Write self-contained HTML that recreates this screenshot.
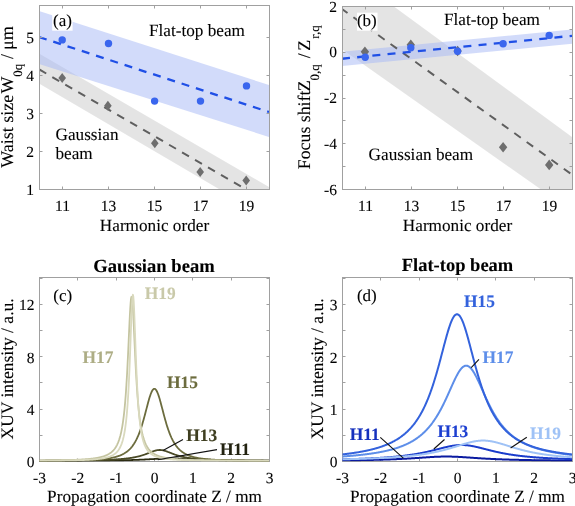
<!DOCTYPE html>
<html><head><meta charset="utf-8"><style>
html,body{margin:0;padding:0;background:#fff;width:575px;height:506px;overflow:hidden}
svg{display:block;will-change:transform}
text{font-family:"Liberation Serif",serif;text-rendering:geometricPrecision;stroke-width:0.1px}
</style></head><body>
<svg width="575" height="506" viewBox="0 0 575 506" font-family="Liberation Serif"><defs><clipPath id="ca"><rect x="39.5" y="5.5" width="230" height="184"/></clipPath><clipPath id="cb"><rect x="342.5" y="6" width="230" height="183.5"/></clipPath><clipPath id="cc"><rect x="39.5" y="277.5" width="230" height="184"/></clipPath><clipPath id="cd"><rect x="342.5" y="277.5" width="230" height="184"/></clipPath></defs>
<g clip-path="url(#ca)">
<polygon points="39,53.6 269,187 269,218.4 39,83.4" fill="#000" fill-opacity="0.105"/>
<polygon points="39,11 269,85 269,137 39,64" fill="#a5b7f5" fill-opacity="0.5"/>
<line x1="39" y1="69.3" x2="269" y2="202.7" stroke="#5f5f5f" stroke-width="2.0" stroke-dasharray="8 7" stroke-dashoffset="-0.37"/>
<line x1="39" y1="37" x2="269" y2="112" stroke="#1f4fe6" stroke-width="2.3" stroke-dasharray="8 7"/>
</g>
<rect x="52.2" y="12.7" width="20.4" height="18" fill="#fff"/>
<text x="62.5" y="25.6" font-size="17" text-anchor="middle" fill="#000" stroke="#000" font-weight="normal" >(a)</text>
<polygon points="62.2,73 66,78 62.2,83 58.4,78" fill="#6e6e6e"/>
<polygon points="107.9,100.8 111.7,105.8 107.9,110.8 104.1,105.8" fill="#6e6e6e"/>
<polygon points="154.8,138.2 158.6,143.2 154.8,148.2 151,143.2" fill="#6e6e6e"/>
<polygon points="200.2,167 204,172 200.2,177 196.4,172" fill="#6e6e6e"/>
<polygon points="246.2,175.5 250,180.5 246.2,185.5 242.4,180.5" fill="#6e6e6e"/>
<circle cx="62.2" cy="39.9" r="3.7" fill="#3a66ee"/>
<circle cx="108.5" cy="43.5" r="3.7" fill="#3a66ee"/>
<circle cx="154.6" cy="101.1" r="3.7" fill="#3a66ee"/>
<circle cx="200.5" cy="101.1" r="3.7" fill="#3a66ee"/>
<circle cx="246.5" cy="85.9" r="3.7" fill="#3a66ee"/>
<rect x="39.5" y="5.5" width="230" height="184" fill="none" stroke="#a0a0a0" stroke-width="1"/>
<path d="M62.5 189.5v-3M62.5 5.5v3M108.5 189.5v-3M108.5 5.5v3M154.5 189.5v-3M154.5 5.5v3M200.5 189.5v-3M200.5 5.5v3M246.5 189.5v-3M246.5 5.5v3M39.5 189.5h3M269.5 189.5h-3M39.5 151.5h3M269.5 151.5h-3M39.5 113.5h3M269.5 113.5h-3M39.5 75.5h3M269.5 75.5h-3M39.5 37.5h3M269.5 37.5h-3" stroke="#a0a0a0" stroke-width="1" fill="none"/>
<text x="62.5" y="210.5" font-size="15.5" text-anchor="middle" fill="#000" stroke="#000" font-weight="normal" >11</text>
<text x="108.5" y="210.5" font-size="15.5" text-anchor="middle" fill="#000" stroke="#000" font-weight="normal" >13</text>
<text x="154.5" y="210.5" font-size="15.5" text-anchor="middle" fill="#000" stroke="#000" font-weight="normal" >15</text>
<text x="200.5" y="210.5" font-size="15.5" text-anchor="middle" fill="#000" stroke="#000" font-weight="normal" >17</text>
<text x="246.5" y="210.5" font-size="15.5" text-anchor="middle" fill="#000" stroke="#000" font-weight="normal" >19</text>
<text x="34" y="194.5" font-size="15.5" text-anchor="end" fill="#000" stroke="#000" font-weight="normal" dy="0.8">1</text>
<text x="34" y="156.5" font-size="15.5" text-anchor="end" fill="#000" stroke="#000" font-weight="normal" dy="0.8">2</text>
<text x="34" y="118.5" font-size="15.5" text-anchor="end" fill="#000" stroke="#000" font-weight="normal" dy="0.8">3</text>
<text x="34" y="80.5" font-size="15.5" text-anchor="end" fill="#000" stroke="#000" font-weight="normal" dy="0.8">4</text>
<text x="34" y="42.5" font-size="15.5" text-anchor="end" fill="#000" stroke="#000" font-weight="normal" dy="0.8">5</text>
<text x="154.5" y="231.2" font-size="17.2" text-anchor="middle" fill="#000" stroke="#000" font-weight="normal" >Harmonic order</text>
<text x="149" y="36" font-size="17.2" text-anchor="start" fill="#000" stroke="#000" font-weight="normal" >Flat-top beam</text>
<text x="55.5" y="140.3" font-size="17.2" text-anchor="start" fill="#000" stroke="#000" font-weight="normal" >Gaussian</text>
<text x="55.5" y="159.4" font-size="17.2" text-anchor="start" fill="#000" stroke="#000" font-weight="normal" >beam</text>
<text transform="translate(12.8,131.25) rotate(-90)" text-anchor="middle" stroke="#000" font-size="18">Waist size</text>
<text transform="translate(12.8,85.05) rotate(-90)" text-anchor="middle" stroke="#000" font-size="18">W</text>
<text transform="translate(21.6,70.35) rotate(-90)" text-anchor="middle" stroke="#000" font-size="12.8">0q</text>
<text transform="translate(12.8,56.55) rotate(-90)" text-anchor="middle" stroke="#000" font-size="18">/</text>
<text transform="translate(12.8,38.15) rotate(-90)" text-anchor="middle" stroke="#000" font-size="18">μm</text>
<g clip-path="url(#cb)">
<polygon points="342,-31.5 572,136.9 572,211.3 342,49.3" fill="#000" fill-opacity="0.105"/>
<polygon points="342,51.7 572,29.6 572,43.8 342,66" fill="#a5b7f5" fill-opacity="0.5"/>
<line x1="342" y1="9" x2="572" y2="174.6" stroke="#5f5f5f" stroke-width="2.0" stroke-dasharray="8 7.25" stroke-dashoffset="1.2"/>
<line x1="342" y1="58.75" x2="572" y2="35.8" stroke="#1f4fe6" stroke-width="2.3" stroke-dasharray="8 7.25"/>
</g>
<rect x="357" y="12.7" width="20.5" height="18" fill="#fff"/>
<text x="366.8" y="25.6" font-size="17" text-anchor="middle" fill="#000" stroke="#000" font-weight="normal" >(b)</text>
<polygon points="364.9,46.4 369.1,51.7 364.9,57 360.7,51.7" fill="#6e6e6e"/>
<polygon points="410.8,39.4 415,44.7 410.8,50 406.6,44.7" fill="#6e6e6e"/>
<polygon points="457.6,45.7 461.8,51 457.6,56.3 453.4,51" fill="#6e6e6e"/>
<polygon points="503.1,141.9 507.3,147.2 503.1,152.5 498.9,147.2" fill="#6e6e6e"/>
<polygon points="549.2,159.6 553.4,164.9 549.2,170.2 545,164.9" fill="#6e6e6e"/>
<circle cx="365.2" cy="57.2" r="3.7" fill="#3a66ee"/>
<circle cx="410.8" cy="47.7" r="3.7" fill="#3a66ee"/>
<circle cx="457.6" cy="51.2" r="3.7" fill="#3a66ee"/>
<circle cx="503.1" cy="43.7" r="3.7" fill="#3a66ee"/>
<circle cx="549.2" cy="35.4" r="3.7" fill="#3a66ee"/>
<rect x="342.5" y="6.5" width="230" height="183" fill="none" stroke="#a0a0a0" stroke-width="1"/>
<path d="M365.5 189.5v-3M365.5 6.5v3M411.5 189.5v-3M411.5 6.5v3M457.5 189.5v-3M457.5 6.5v3M503.5 189.5v-3M503.5 6.5v3M549.5 189.5v-3M549.5 6.5v3M342.5 189.5h3M572.5 189.5h-3M342.5 166.5h3M572.5 166.5h-3M342.5 143.5h3M572.5 143.5h-3M342.5 120.5h3M572.5 120.5h-3M342.5 98.5h3M572.5 98.5h-3M342.5 75.5h3M572.5 75.5h-3M342.5 52.5h3M572.5 52.5h-3M342.5 29.5h3M572.5 29.5h-3M342.5 6.5h3M572.5 6.5h-3" stroke="#a0a0a0" stroke-width="1" fill="none"/>
<text x="365.5" y="210.5" font-size="15.5" text-anchor="middle" fill="#000" stroke="#000" font-weight="normal" >11</text>
<text x="411.5" y="210.5" font-size="15.5" text-anchor="middle" fill="#000" stroke="#000" font-weight="normal" >13</text>
<text x="457.5" y="210.5" font-size="15.5" text-anchor="middle" fill="#000" stroke="#000" font-weight="normal" >15</text>
<text x="503.5" y="210.5" font-size="15.5" text-anchor="middle" fill="#000" stroke="#000" font-weight="normal" >17</text>
<text x="549.5" y="210.5" font-size="15.5" text-anchor="middle" fill="#000" stroke="#000" font-weight="normal" >19</text>
<text x="337" y="194.5" font-size="15.5" text-anchor="end" fill="#000" stroke="#000" font-weight="normal" >-6</text>
<text x="337" y="148.75" font-size="15.5" text-anchor="end" fill="#000" stroke="#000" font-weight="normal" >-4</text>
<text x="337" y="103" font-size="15.5" text-anchor="end" fill="#000" stroke="#000" font-weight="normal" >-2</text>
<text x="337" y="57.25" font-size="15.5" text-anchor="end" fill="#000" stroke="#000" font-weight="normal" >0</text>
<text x="337" y="11.5" font-size="15.5" text-anchor="end" fill="#000" stroke="#000" font-weight="normal" >2</text>
<text x="457.5" y="231.2" font-size="17.2" text-anchor="middle" fill="#000" stroke="#000" font-weight="normal" >Harmonic order</text>
<text x="444" y="25.2" font-size="17.2" text-anchor="start" fill="#000" stroke="#000" font-weight="normal" >Flat-top beam</text>
<text x="368.6" y="159.7" font-size="17.2" text-anchor="start" fill="#000" stroke="#000" font-weight="normal" >Gaussian beam</text>
<text transform="translate(309.8,129.9) rotate(-90)" text-anchor="middle" stroke="#000" font-size="17.8">Focus shift</text>
<text transform="translate(309.8,85.85) rotate(-90)" text-anchor="middle" stroke="#000" font-size="17.8">Z</text>
<text transform="translate(318.6,72.4) rotate(-90)" text-anchor="middle" stroke="#000" font-size="12.8">0,q</text>
<text transform="translate(309.8,55.7) rotate(-90)" text-anchor="middle" stroke="#000" font-size="17.8">/</text>
<text transform="translate(309.8,45.25) rotate(-90)" text-anchor="middle" stroke="#000" font-size="17.8">Z</text>
<text transform="translate(318.6,32.1) rotate(-90)" text-anchor="middle" stroke="#000" font-size="12.8">r,q</text>
<text x="154" y="271.5" font-size="18.6" text-anchor="middle" fill="#000" stroke="#000" font-weight="bold" >Gaussian beam</text>
<rect x="39.5" y="277.5" width="230" height="184" fill="none" stroke="#a0a0a0" stroke-width="1"/>
<path d="M39.5 461.5v-3M39.5 277.5v3M77.5 461.5v-3M77.5 277.5v3M116.5 461.5v-3M116.5 277.5v3M154.5 461.5v-3M154.5 277.5v3M192.5 461.5v-3M192.5 277.5v3M231.5 461.5v-3M231.5 277.5v3M269.5 461.5v-3M269.5 277.5v3M39.5 461.5h3M269.5 461.5h-3M39.5 435.5h3M269.5 435.5h-3M39.5 409.5h3M269.5 409.5h-3M39.5 382.5h3M269.5 382.5h-3M39.5 356.5h3M269.5 356.5h-3M39.5 330.5h3M269.5 330.5h-3M39.5 304.5h3M269.5 304.5h-3M39.5 278.5h3M269.5 278.5h-3" stroke="#a0a0a0" stroke-width="1" fill="none"/>
<g clip-path="url(#cc)">
<polyline points="39,460.87 39.38,460.87 39.77,460.86 40.15,460.86 40.53,460.86 40.92,460.86 41.3,460.86 41.68,460.86 42.07,460.86 42.45,460.86 42.83,460.86 43.22,460.86 43.6,460.86 43.98,460.86 44.37,460.86 44.75,460.85 45.13,460.85 45.52,460.85 45.9,460.85 46.28,460.85 46.67,460.85 47.05,460.85 47.43,460.85 47.82,460.85 48.2,460.85 48.58,460.85 48.97,460.84 49.35,460.84 49.73,460.84 50.12,460.84 50.5,460.84 50.88,460.84 51.27,460.84 51.65,460.84 52.03,460.84 52.42,460.84 52.8,460.84 53.18,460.83 53.57,460.83 53.95,460.83 54.33,460.83 54.72,460.83 55.1,460.83 55.48,460.83 55.87,460.83 56.25,460.83 56.63,460.82 57.02,460.82 57.4,460.82 57.78,460.82 58.17,460.82 58.55,460.82 58.93,460.82 59.32,460.82 59.7,460.82 60.08,460.81 60.47,460.81 60.85,460.81 61.23,460.81 61.62,460.81 62,460.81 62.38,460.81 62.77,460.81 63.15,460.8 63.53,460.8 63.92,460.8 64.3,460.8 64.68,460.8 65.07,460.8 65.45,460.8 65.83,460.8 66.22,460.79 66.6,460.79 66.98,460.79 67.37,460.79 67.75,460.79 68.13,460.79 68.52,460.79 68.9,460.78 69.28,460.78 69.67,460.78 70.05,460.78 70.43,460.78 70.82,460.78 71.2,460.77 71.58,460.77 71.97,460.77 72.35,460.77 72.73,460.77 73.12,460.77 73.5,460.77 73.88,460.76 74.27,460.76 74.65,460.76 75.03,460.76 75.42,460.76 75.8,460.75 76.18,460.75 76.57,460.75 76.95,460.75 77.33,460.75 77.72,460.75 78.1,460.74 78.48,460.74 78.87,460.74 79.25,460.74 79.63,460.74 80.02,460.73 80.4,460.73 80.78,460.73 81.17,460.73 81.55,460.73 81.93,460.72 82.32,460.72 82.7,460.72 83.08,460.72 83.47,460.72 83.85,460.71 84.23,460.71 84.62,460.71 85,460.71 85.38,460.7 85.77,460.7 86.15,460.7 86.53,460.7 86.92,460.69 87.3,460.69 87.68,460.69 88.07,460.69 88.45,460.68 88.83,460.68 89.22,460.68 89.6,460.68 89.98,460.67 90.37,460.67 90.75,460.67 91.13,460.67 91.52,460.66 91.9,460.66 92.28,460.66 92.67,460.65 93.05,460.65 93.43,460.65 93.82,460.64 94.2,460.64 94.58,460.64 94.97,460.64 95.35,460.63 95.73,460.63 96.12,460.63 96.5,460.62 96.88,460.62 97.27,460.62 97.65,460.61 98.03,460.61 98.42,460.61 98.8,460.6 99.18,460.6 99.57,460.59 99.95,460.59 100.33,460.59 100.72,460.58 101.1,460.58 101.48,460.58 101.87,460.57 102.25,460.57 102.63,460.56 103.02,460.56 103.4,460.56 103.78,460.55 104.17,460.55 104.55,460.54 104.93,460.54 105.32,460.53 105.7,460.53 106.08,460.52 106.47,460.52 106.85,460.52 107.23,460.51 107.62,460.51 108,460.5 108.38,460.5 108.77,460.49 109.15,460.49 109.53,460.48 109.92,460.48 110.3,460.47 110.68,460.47 111.07,460.46 111.45,460.45 111.83,460.45 112.22,460.44 112.6,460.44 112.98,460.43 113.37,460.43 113.75,460.42 114.13,460.41 114.52,460.41 114.9,460.4 115.28,460.4 115.67,460.39 116.05,460.38 116.43,460.38 116.82,460.37 117.2,460.36 117.58,460.36 117.97,460.35 118.35,460.34 118.73,460.33 119.12,460.33 119.5,460.32 119.88,460.31 120.27,460.3 120.65,460.3 121.03,460.29 121.42,460.28 121.8,460.27 122.18,460.26 122.57,460.26 122.95,460.25 123.33,460.24 123.72,460.23 124.1,460.22 124.48,460.21 124.87,460.2 125.25,460.19 125.63,460.18 126.02,460.17 126.4,460.17 126.78,460.16 127.17,460.15 127.55,460.14 127.93,460.13 128.32,460.11 128.7,460.1 129.08,460.09 129.47,460.08 129.85,460.07 130.23,460.06 130.62,460.05 131,460.04 131.38,460.03 131.77,460.01 132.15,460 132.53,459.99 132.92,459.98 133.3,459.97 133.68,459.95 134.07,459.94 134.45,459.93 134.83,459.91 135.22,459.9 135.6,459.89 135.98,459.87 136.37,459.86 136.75,459.84 137.13,459.83 137.52,459.81 137.9,459.8 138.28,459.78 138.67,459.77 139.05,459.75 139.43,459.74 139.82,459.72 140.2,459.71 140.58,459.69 140.97,459.67 141.35,459.66 141.73,459.64 142.12,459.62 142.5,459.61 142.88,459.59 143.27,459.57 143.65,459.55 144.03,459.53 144.42,459.52 144.8,459.5 145.18,459.48 145.57,459.46 145.95,459.44 146.33,459.42 146.72,459.4 147.1,459.38 147.48,459.36 147.87,459.34 148.25,459.32 148.63,459.3 149.02,459.28 149.4,459.26 149.78,459.24 150.17,459.22 150.55,459.2 150.93,459.18 151.32,459.16 151.7,459.14 152.08,459.12 152.47,459.09 152.85,459.07 153.23,459.05 153.62,459.03 154,459.01 154.38,458.99 154.77,458.97 155.15,458.95 155.53,458.93 155.92,458.9 156.3,458.88 156.68,458.86 157.07,458.84 157.45,458.82 157.83,458.8 158.22,458.78 158.6,458.76 158.98,458.74 159.37,458.72 159.75,458.7 160.13,458.68 160.52,458.67 160.9,458.65 161.28,458.63 161.67,458.61 162.05,458.6 162.43,458.58 162.82,458.56 163.2,458.55 163.58,458.53 163.97,458.52 164.35,458.51 164.73,458.49 165.12,458.48 165.5,458.47 165.88,458.46 166.27,458.45 166.65,458.44 167.03,458.43 167.42,458.42 167.8,458.41 168.18,458.41 168.57,458.4 168.95,458.39 169.33,458.39 169.72,458.39 170.1,458.38 170.48,458.38 170.87,458.38 171.25,458.38 171.63,458.38 172.02,458.38 172.4,458.38 172.78,458.39 173.17,458.39 173.55,458.39 173.93,458.4 174.32,458.41 174.7,458.41 175.08,458.42 175.47,458.43 175.85,458.44 176.23,458.45 176.62,458.46 177,458.47 177.38,458.48 177.77,458.49 178.15,458.51 178.53,458.52 178.92,458.53 179.3,458.55 179.68,458.56 180.07,458.58 180.45,458.6 180.83,458.61 181.22,458.63 181.6,458.65 181.98,458.67 182.37,458.68 182.75,458.7 183.13,458.72 183.52,458.74 183.9,458.76 184.28,458.78 184.67,458.8 185.05,458.82 185.43,458.84 185.82,458.86 186.2,458.88 186.58,458.9 186.97,458.93 187.35,458.95 187.73,458.97 188.12,458.99 188.5,459.01 188.88,459.03 189.27,459.05 189.65,459.07 190.03,459.09 190.42,459.12 190.8,459.14 191.18,459.16 191.57,459.18 191.95,459.2 192.33,459.22 192.72,459.24 193.1,459.26 193.48,459.28 193.87,459.3 194.25,459.32 194.63,459.34 195.02,459.36 195.4,459.38 195.78,459.4 196.17,459.42 196.55,459.44 196.93,459.46 197.32,459.48 197.7,459.5 198.08,459.52 198.47,459.53 198.85,459.55 199.23,459.57 199.62,459.59 200,459.61 200.38,459.62 200.77,459.64 201.15,459.66 201.53,459.67 201.92,459.69 202.3,459.71 202.68,459.72 203.07,459.74 203.45,459.75 203.83,459.77 204.22,459.78 204.6,459.8 204.98,459.81 205.37,459.83 205.75,459.84 206.13,459.86 206.52,459.87 206.9,459.89 207.28,459.9 207.67,459.91 208.05,459.93 208.43,459.94 208.82,459.95 209.2,459.97 209.58,459.98 209.97,459.99 210.35,460 210.73,460.01 211.12,460.03 211.5,460.04 211.88,460.05 212.27,460.06 212.65,460.07 213.03,460.08 213.42,460.09 213.8,460.1 214.18,460.11 214.57,460.13 214.95,460.14 215.33,460.15 215.72,460.16 216.1,460.17 216.48,460.17 216.87,460.18 217.25,460.19 217.63,460.2 218.02,460.21 218.4,460.22 218.78,460.23 219.17,460.24 219.55,460.25 219.93,460.26 220.32,460.26 220.7,460.27 221.08,460.28 221.47,460.29 221.85,460.3 222.23,460.3 222.62,460.31 223,460.32 223.38,460.33 223.77,460.33 224.15,460.34 224.53,460.35 224.92,460.36 225.3,460.36 225.68,460.37 226.07,460.38 226.45,460.38 226.83,460.39 227.22,460.4 227.6,460.4 227.98,460.41 228.37,460.41 228.75,460.42 229.13,460.43 229.52,460.43 229.9,460.44 230.28,460.44 230.67,460.45 231.05,460.45 231.43,460.46 231.82,460.47 232.2,460.47 232.58,460.48 232.97,460.48 233.35,460.49 233.73,460.49 234.12,460.5 234.5,460.5 234.88,460.51 235.27,460.51 235.65,460.52 236.03,460.52 236.42,460.52 236.8,460.53 237.18,460.53 237.57,460.54 237.95,460.54 238.33,460.55 238.72,460.55 239.1,460.56 239.48,460.56 239.87,460.56 240.25,460.57 240.63,460.57 241.02,460.58 241.4,460.58 241.78,460.58 242.17,460.59 242.55,460.59 242.93,460.59 243.32,460.6 243.7,460.6 244.08,460.61 244.47,460.61 244.85,460.61 245.23,460.62 245.62,460.62 246,460.62 246.38,460.63 246.77,460.63 247.15,460.63 247.53,460.64 247.92,460.64 248.3,460.64 248.68,460.64 249.07,460.65 249.45,460.65 249.83,460.65 250.22,460.66 250.6,460.66 250.98,460.66 251.37,460.67 251.75,460.67 252.13,460.67 252.52,460.67 252.9,460.68 253.28,460.68 253.67,460.68 254.05,460.68 254.43,460.69 254.82,460.69 255.2,460.69 255.58,460.69 255.97,460.7 256.35,460.7 256.73,460.7 257.12,460.7 257.5,460.71 257.88,460.71 258.27,460.71 258.65,460.71 259.03,460.72 259.42,460.72 259.8,460.72 260.18,460.72 260.57,460.72 260.95,460.73 261.33,460.73 261.72,460.73 262.1,460.73 262.48,460.73 262.87,460.74 263.25,460.74 263.63,460.74 264.02,460.74 264.4,460.74 264.78,460.75 265.17,460.75 265.55,460.75 265.93,460.75 266.32,460.75 266.7,460.75 267.08,460.76 267.47,460.76 267.85,460.76 268.23,460.76 268.62,460.76 269,460.77" fill="none" stroke="#2c2c12" stroke-width="1.8" stroke-linejoin="round"/>
<polyline points="39,460.76 39.38,460.76 39.77,460.76 40.15,460.76 40.53,460.75 40.92,460.75 41.3,460.75 41.68,460.75 42.07,460.75 42.45,460.75 42.83,460.74 43.22,460.74 43.6,460.74 43.98,460.74 44.37,460.74 44.75,460.74 45.13,460.73 45.52,460.73 45.9,460.73 46.28,460.73 46.67,460.73 47.05,460.73 47.43,460.72 47.82,460.72 48.2,460.72 48.58,460.72 48.97,460.72 49.35,460.71 49.73,460.71 50.12,460.71 50.5,460.71 50.88,460.71 51.27,460.7 51.65,460.7 52.03,460.7 52.42,460.7 52.8,460.7 53.18,460.69 53.57,460.69 53.95,460.69 54.33,460.69 54.72,460.69 55.1,460.68 55.48,460.68 55.87,460.68 56.25,460.68 56.63,460.67 57.02,460.67 57.4,460.67 57.78,460.67 58.17,460.66 58.55,460.66 58.93,460.66 59.32,460.66 59.7,460.65 60.08,460.65 60.47,460.65 60.85,460.65 61.23,460.64 61.62,460.64 62,460.64 62.38,460.64 62.77,460.63 63.15,460.63 63.53,460.63 63.92,460.62 64.3,460.62 64.68,460.62 65.07,460.62 65.45,460.61 65.83,460.61 66.22,460.61 66.6,460.6 66.98,460.6 67.37,460.6 67.75,460.59 68.13,460.59 68.52,460.59 68.9,460.58 69.28,460.58 69.67,460.58 70.05,460.57 70.43,460.57 70.82,460.57 71.2,460.56 71.58,460.56 71.97,460.56 72.35,460.55 72.73,460.55 73.12,460.54 73.5,460.54 73.88,460.54 74.27,460.53 74.65,460.53 75.03,460.52 75.42,460.52 75.8,460.52 76.18,460.51 76.57,460.51 76.95,460.5 77.33,460.5 77.72,460.49 78.1,460.49 78.48,460.48 78.87,460.48 79.25,460.48 79.63,460.47 80.02,460.47 80.4,460.46 80.78,460.46 81.17,460.45 81.55,460.45 81.93,460.44 82.32,460.43 82.7,460.43 83.08,460.42 83.47,460.42 83.85,460.41 84.23,460.41 84.62,460.4 85,460.4 85.38,460.39 85.77,460.38 86.15,460.38 86.53,460.37 86.92,460.37 87.3,460.36 87.68,460.35 88.07,460.35 88.45,460.34 88.83,460.33 89.22,460.33 89.6,460.32 89.98,460.31 90.37,460.3 90.75,460.3 91.13,460.29 91.52,460.28 91.9,460.28 92.28,460.27 92.67,460.26 93.05,460.25 93.43,460.24 93.82,460.24 94.2,460.23 94.58,460.22 94.97,460.21 95.35,460.2 95.73,460.19 96.12,460.18 96.5,460.17 96.88,460.16 97.27,460.16 97.65,460.15 98.03,460.14 98.42,460.13 98.8,460.12 99.18,460.11 99.57,460.09 99.95,460.08 100.33,460.07 100.72,460.06 101.1,460.05 101.48,460.04 101.87,460.03 102.25,460.02 102.63,460 103.02,459.99 103.4,459.98 103.78,459.97 104.17,459.95 104.55,459.94 104.93,459.93 105.32,459.91 105.7,459.9 106.08,459.89 106.47,459.87 106.85,459.86 107.23,459.84 107.62,459.83 108,459.81 108.38,459.79 108.77,459.78 109.15,459.76 109.53,459.75 109.92,459.73 110.3,459.71 110.68,459.69 111.07,459.67 111.45,459.66 111.83,459.64 112.22,459.62 112.6,459.6 112.98,459.58 113.37,459.56 113.75,459.54 114.13,459.52 114.52,459.49 114.9,459.47 115.28,459.45 115.67,459.43 116.05,459.4 116.43,459.38 116.82,459.35 117.2,459.33 117.58,459.3 117.97,459.27 118.35,459.25 118.73,459.22 119.12,459.19 119.5,459.16 119.88,459.13 120.27,459.1 120.65,459.07 121.03,459.04 121.42,459.01 121.8,458.98 122.18,458.94 122.57,458.91 122.95,458.87 123.33,458.84 123.72,458.8 124.1,458.76 124.48,458.72 124.87,458.68 125.25,458.64 125.63,458.6 126.02,458.56 126.4,458.51 126.78,458.47 127.17,458.42 127.55,458.38 127.93,458.33 128.32,458.28 128.7,458.23 129.08,458.18 129.47,458.12 129.85,458.07 130.23,458.01 130.62,457.96 131,457.9 131.38,457.84 131.77,457.78 132.15,457.71 132.53,457.65 132.92,457.58 133.3,457.51 133.68,457.44 134.07,457.37 134.45,457.3 134.83,457.22 135.22,457.14 135.6,457.07 135.98,456.98 136.37,456.9 136.75,456.82 137.13,456.73 137.52,456.64 137.9,456.55 138.28,456.45 138.67,456.36 139.05,456.26 139.43,456.16 139.82,456.05 140.2,455.95 140.58,455.84 140.97,455.73 141.35,455.61 141.73,455.5 142.12,455.38 142.5,455.26 142.88,455.14 143.27,455.01 143.65,454.88 144.03,454.75 144.42,454.62 144.8,454.48 145.18,454.35 145.57,454.21 145.95,454.06 146.33,453.92 146.72,453.78 147.1,453.63 147.48,453.48 147.87,453.33 148.25,453.18 148.63,453.03 149.02,452.88 149.4,452.73 149.78,452.57 150.17,452.42 150.55,452.27 150.93,452.12 151.32,451.97 151.7,451.83 152.08,451.68 152.47,451.54 152.85,451.4 153.23,451.27 153.62,451.14 154,451.01 154.38,450.89 154.77,450.78 155.15,450.67 155.53,450.57 155.92,450.47 156.3,450.39 156.68,450.31 157.07,450.23 157.45,450.17 157.83,450.12 158.22,450.08 158.6,450.04 158.98,450.02 159.37,450 159.75,450 160.13,450 160.52,450.02 160.9,450.04 161.28,450.08 161.67,450.12 162.05,450.17 162.43,450.23 162.82,450.31 163.2,450.39 163.58,450.47 163.97,450.57 164.35,450.67 164.73,450.78 165.12,450.89 165.5,451.01 165.88,451.14 166.27,451.27 166.65,451.4 167.03,451.54 167.42,451.68 167.8,451.83 168.18,451.97 168.57,452.12 168.95,452.27 169.33,452.42 169.72,452.57 170.1,452.73 170.48,452.88 170.87,453.03 171.25,453.18 171.63,453.33 172.02,453.48 172.4,453.63 172.78,453.78 173.17,453.92 173.55,454.06 173.93,454.21 174.32,454.35 174.7,454.48 175.08,454.62 175.47,454.75 175.85,454.88 176.23,455.01 176.62,455.14 177,455.26 177.38,455.38 177.77,455.5 178.15,455.61 178.53,455.73 178.92,455.84 179.3,455.95 179.68,456.05 180.07,456.16 180.45,456.26 180.83,456.36 181.22,456.45 181.6,456.55 181.98,456.64 182.37,456.73 182.75,456.82 183.13,456.9 183.52,456.98 183.9,457.07 184.28,457.14 184.67,457.22 185.05,457.3 185.43,457.37 185.82,457.44 186.2,457.51 186.58,457.58 186.97,457.65 187.35,457.71 187.73,457.78 188.12,457.84 188.5,457.9 188.88,457.96 189.27,458.01 189.65,458.07 190.03,458.12 190.42,458.18 190.8,458.23 191.18,458.28 191.57,458.33 191.95,458.38 192.33,458.42 192.72,458.47 193.1,458.51 193.48,458.56 193.87,458.6 194.25,458.64 194.63,458.68 195.02,458.72 195.4,458.76 195.78,458.8 196.17,458.84 196.55,458.87 196.93,458.91 197.32,458.94 197.7,458.98 198.08,459.01 198.47,459.04 198.85,459.07 199.23,459.1 199.62,459.13 200,459.16 200.38,459.19 200.77,459.22 201.15,459.25 201.53,459.27 201.92,459.3 202.3,459.33 202.68,459.35 203.07,459.38 203.45,459.4 203.83,459.43 204.22,459.45 204.6,459.47 204.98,459.49 205.37,459.52 205.75,459.54 206.13,459.56 206.52,459.58 206.9,459.6 207.28,459.62 207.67,459.64 208.05,459.66 208.43,459.67 208.82,459.69 209.2,459.71 209.58,459.73 209.97,459.75 210.35,459.76 210.73,459.78 211.12,459.79 211.5,459.81 211.88,459.83 212.27,459.84 212.65,459.86 213.03,459.87 213.42,459.89 213.8,459.9 214.18,459.91 214.57,459.93 214.95,459.94 215.33,459.95 215.72,459.97 216.1,459.98 216.48,459.99 216.87,460 217.25,460.02 217.63,460.03 218.02,460.04 218.4,460.05 218.78,460.06 219.17,460.07 219.55,460.08 219.93,460.09 220.32,460.11 220.7,460.12 221.08,460.13 221.47,460.14 221.85,460.15 222.23,460.16 222.62,460.16 223,460.17 223.38,460.18 223.77,460.19 224.15,460.2 224.53,460.21 224.92,460.22 225.3,460.23 225.68,460.24 226.07,460.24 226.45,460.25 226.83,460.26 227.22,460.27 227.6,460.28 227.98,460.28 228.37,460.29 228.75,460.3 229.13,460.3 229.52,460.31 229.9,460.32 230.28,460.33 230.67,460.33 231.05,460.34 231.43,460.35 231.82,460.35 232.2,460.36 232.58,460.37 232.97,460.37 233.35,460.38 233.73,460.38 234.12,460.39 234.5,460.4 234.88,460.4 235.27,460.41 235.65,460.41 236.03,460.42 236.42,460.42 236.8,460.43 237.18,460.43 237.57,460.44 237.95,460.45 238.33,460.45 238.72,460.46 239.1,460.46 239.48,460.47 239.87,460.47 240.25,460.48 240.63,460.48 241.02,460.48 241.4,460.49 241.78,460.49 242.17,460.5 242.55,460.5 242.93,460.51 243.32,460.51 243.7,460.52 244.08,460.52 244.47,460.52 244.85,460.53 245.23,460.53 245.62,460.54 246,460.54 246.38,460.54 246.77,460.55 247.15,460.55 247.53,460.56 247.92,460.56 248.3,460.56 248.68,460.57 249.07,460.57 249.45,460.57 249.83,460.58 250.22,460.58 250.6,460.58 250.98,460.59 251.37,460.59 251.75,460.59 252.13,460.6 252.52,460.6 252.9,460.6 253.28,460.61 253.67,460.61 254.05,460.61 254.43,460.62 254.82,460.62 255.2,460.62 255.58,460.62 255.97,460.63 256.35,460.63 256.73,460.63 257.12,460.64 257.5,460.64 257.88,460.64 258.27,460.64 258.65,460.65 259.03,460.65 259.42,460.65 259.8,460.65 260.18,460.66 260.57,460.66 260.95,460.66 261.33,460.66 261.72,460.67 262.1,460.67 262.48,460.67 262.87,460.67 263.25,460.68 263.63,460.68 264.02,460.68 264.4,460.68 264.78,460.69 265.17,460.69 265.55,460.69 265.93,460.69 266.32,460.69 266.7,460.7 267.08,460.7 267.47,460.7 267.85,460.7 268.23,460.7 268.62,460.71 269,460.71" fill="none" stroke="#4a4a26" stroke-width="1.8" stroke-linejoin="round"/>
<polyline points="39,460.81 39.38,460.81 39.77,460.81 40.15,460.8 40.53,460.8 40.92,460.8 41.3,460.8 41.68,460.8 42.07,460.79 42.45,460.79 42.83,460.79 43.22,460.79 43.6,460.79 43.98,460.78 44.37,460.78 44.75,460.78 45.13,460.78 45.52,460.77 45.9,460.77 46.28,460.77 46.67,460.77 47.05,460.76 47.43,460.76 47.82,460.76 48.2,460.76 48.58,460.75 48.97,460.75 49.35,460.75 49.73,460.75 50.12,460.74 50.5,460.74 50.88,460.74 51.27,460.74 51.65,460.73 52.03,460.73 52.42,460.73 52.8,460.72 53.18,460.72 53.57,460.72 53.95,460.71 54.33,460.71 54.72,460.71 55.1,460.7 55.48,460.7 55.87,460.7 56.25,460.69 56.63,460.69 57.02,460.69 57.4,460.68 57.78,460.68 58.17,460.68 58.55,460.67 58.93,460.67 59.32,460.66 59.7,460.66 60.08,460.66 60.47,460.65 60.85,460.65 61.23,460.64 61.62,460.64 62,460.63 62.38,460.63 62.77,460.63 63.15,460.62 63.53,460.62 63.92,460.61 64.3,460.61 64.68,460.6 65.07,460.6 65.45,460.59 65.83,460.59 66.22,460.58 66.6,460.58 66.98,460.57 67.37,460.57 67.75,460.56 68.13,460.55 68.52,460.55 68.9,460.54 69.28,460.54 69.67,460.53 70.05,460.52 70.43,460.52 70.82,460.51 71.2,460.5 71.58,460.5 71.97,460.49 72.35,460.48 72.73,460.48 73.12,460.47 73.5,460.46 73.88,460.46 74.27,460.45 74.65,460.44 75.03,460.43 75.42,460.42 75.8,460.42 76.18,460.41 76.57,460.4 76.95,460.39 77.33,460.38 77.72,460.37 78.1,460.36 78.48,460.36 78.87,460.35 79.25,460.34 79.63,460.33 80.02,460.32 80.4,460.31 80.78,460.3 81.17,460.28 81.55,460.27 81.93,460.26 82.32,460.25 82.7,460.24 83.08,460.23 83.47,460.22 83.85,460.2 84.23,460.19 84.62,460.18 85,460.17 85.38,460.15 85.77,460.14 86.15,460.13 86.53,460.11 86.92,460.1 87.3,460.08 87.68,460.07 88.07,460.05 88.45,460.04 88.83,460.02 89.22,460 89.6,459.99 89.98,459.97 90.37,459.95 90.75,459.93 91.13,459.92 91.52,459.9 91.9,459.88 92.28,459.86 92.67,459.84 93.05,459.82 93.43,459.8 93.82,459.78 94.2,459.75 94.58,459.73 94.97,459.71 95.35,459.69 95.73,459.66 96.12,459.64 96.5,459.61 96.88,459.59 97.27,459.56 97.65,459.53 98.03,459.5 98.42,459.47 98.8,459.45 99.18,459.42 99.57,459.38 99.95,459.35 100.33,459.32 100.72,459.29 101.1,459.25 101.48,459.22 101.87,459.18 102.25,459.15 102.63,459.11 103.02,459.07 103.4,459.03 103.78,458.99 104.17,458.95 104.55,458.9 104.93,458.86 105.32,458.81 105.7,458.77 106.08,458.72 106.47,458.67 106.85,458.62 107.23,458.56 107.62,458.51 108,458.45 108.38,458.4 108.77,458.34 109.15,458.28 109.53,458.22 109.92,458.15 110.3,458.09 110.68,458.02 111.07,457.95 111.45,457.88 111.83,457.8 112.22,457.72 112.6,457.64 112.98,457.56 113.37,457.48 113.75,457.39 114.13,457.3 114.52,457.21 114.9,457.11 115.28,457.02 115.67,456.91 116.05,456.81 116.43,456.7 116.82,456.59 117.2,456.47 117.58,456.35 117.97,456.23 118.35,456.1 118.73,455.97 119.12,455.83 119.5,455.69 119.88,455.54 120.27,455.39 120.65,455.23 121.03,455.07 121.42,454.9 121.8,454.73 122.18,454.54 122.57,454.36 122.95,454.16 123.33,453.96 123.72,453.75 124.1,453.53 124.48,453.31 124.87,453.07 125.25,452.83 125.63,452.58 126.02,452.32 126.4,452.05 126.78,451.77 127.17,451.47 127.55,451.17 127.93,450.85 128.32,450.53 128.7,450.18 129.08,449.83 129.47,449.46 129.85,449.08 130.23,448.68 130.62,448.27 131,447.84 131.38,447.39 131.77,446.92 132.15,446.44 132.53,445.93 132.92,445.41 133.3,444.86 133.68,444.3 134.07,443.71 134.45,443.09 134.83,442.46 135.22,441.79 135.6,441.1 135.98,440.39 136.37,439.65 136.75,438.87 137.13,438.07 137.52,437.24 137.9,436.38 138.28,435.48 138.67,434.55 139.05,433.59 139.43,432.6 139.82,431.57 140.2,430.5 140.58,429.41 140.97,428.27 141.35,427.11 141.73,425.91 142.12,424.67 142.5,423.41 142.88,422.11 143.27,420.78 143.65,419.42 144.03,418.04 144.42,416.63 144.8,415.2 145.18,413.76 145.57,412.3 145.95,410.83 146.33,409.35 146.72,407.88 147.1,406.41 147.48,404.95 147.87,403.51 148.25,402.1 148.63,400.71 149.02,399.37 149.4,398.08 149.78,396.83 150.17,395.66 150.55,394.55 150.93,393.52 151.32,392.58 151.7,391.73 152.08,390.97 152.47,390.33 152.85,389.79 153.23,389.37 153.62,389.06 154,388.88 154.38,388.82 154.77,388.88 155.15,389.06 155.53,389.37 155.92,389.79 156.3,390.33 156.68,390.97 157.07,391.73 157.45,392.58 157.83,393.52 158.22,394.55 158.6,395.66 158.98,396.83 159.37,398.08 159.75,399.37 160.13,400.71 160.52,402.1 160.9,403.51 161.28,404.95 161.67,406.41 162.05,407.88 162.43,409.35 162.82,410.83 163.2,412.3 163.58,413.76 163.97,415.2 164.35,416.63 164.73,418.04 165.12,419.42 165.5,420.78 165.88,422.11 166.27,423.41 166.65,424.67 167.03,425.91 167.42,427.11 167.8,428.27 168.18,429.41 168.57,430.5 168.95,431.57 169.33,432.6 169.72,433.59 170.1,434.55 170.48,435.48 170.87,436.38 171.25,437.24 171.63,438.07 172.02,438.87 172.4,439.65 172.78,440.39 173.17,441.1 173.55,441.79 173.93,442.46 174.32,443.09 174.7,443.71 175.08,444.3 175.47,444.86 175.85,445.41 176.23,445.93 176.62,446.44 177,446.92 177.38,447.39 177.77,447.84 178.15,448.27 178.53,448.68 178.92,449.08 179.3,449.46 179.68,449.83 180.07,450.18 180.45,450.53 180.83,450.85 181.22,451.17 181.6,451.47 181.98,451.77 182.37,452.05 182.75,452.32 183.13,452.58 183.52,452.83 183.9,453.07 184.28,453.31 184.67,453.53 185.05,453.75 185.43,453.96 185.82,454.16 186.2,454.36 186.58,454.54 186.97,454.73 187.35,454.9 187.73,455.07 188.12,455.23 188.5,455.39 188.88,455.54 189.27,455.69 189.65,455.83 190.03,455.97 190.42,456.1 190.8,456.23 191.18,456.35 191.57,456.47 191.95,456.59 192.33,456.7 192.72,456.81 193.1,456.91 193.48,457.02 193.87,457.11 194.25,457.21 194.63,457.3 195.02,457.39 195.4,457.48 195.78,457.56 196.17,457.64 196.55,457.72 196.93,457.8 197.32,457.88 197.7,457.95 198.08,458.02 198.47,458.09 198.85,458.15 199.23,458.22 199.62,458.28 200,458.34 200.38,458.4 200.77,458.45 201.15,458.51 201.53,458.56 201.92,458.62 202.3,458.67 202.68,458.72 203.07,458.77 203.45,458.81 203.83,458.86 204.22,458.9 204.6,458.95 204.98,458.99 205.37,459.03 205.75,459.07 206.13,459.11 206.52,459.15 206.9,459.18 207.28,459.22 207.67,459.25 208.05,459.29 208.43,459.32 208.82,459.35 209.2,459.38 209.58,459.42 209.97,459.45 210.35,459.47 210.73,459.5 211.12,459.53 211.5,459.56 211.88,459.59 212.27,459.61 212.65,459.64 213.03,459.66 213.42,459.69 213.8,459.71 214.18,459.73 214.57,459.75 214.95,459.78 215.33,459.8 215.72,459.82 216.1,459.84 216.48,459.86 216.87,459.88 217.25,459.9 217.63,459.92 218.02,459.93 218.4,459.95 218.78,459.97 219.17,459.99 219.55,460 219.93,460.02 220.32,460.04 220.7,460.05 221.08,460.07 221.47,460.08 221.85,460.1 222.23,460.11 222.62,460.13 223,460.14 223.38,460.15 223.77,460.17 224.15,460.18 224.53,460.19 224.92,460.2 225.3,460.22 225.68,460.23 226.07,460.24 226.45,460.25 226.83,460.26 227.22,460.27 227.6,460.28 227.98,460.3 228.37,460.31 228.75,460.32 229.13,460.33 229.52,460.34 229.9,460.35 230.28,460.36 230.67,460.36 231.05,460.37 231.43,460.38 231.82,460.39 232.2,460.4 232.58,460.41 232.97,460.42 233.35,460.42 233.73,460.43 234.12,460.44 234.5,460.45 234.88,460.46 235.27,460.46 235.65,460.47 236.03,460.48 236.42,460.48 236.8,460.49 237.18,460.5 237.57,460.5 237.95,460.51 238.33,460.52 238.72,460.52 239.1,460.53 239.48,460.54 239.87,460.54 240.25,460.55 240.63,460.55 241.02,460.56 241.4,460.57 241.78,460.57 242.17,460.58 242.55,460.58 242.93,460.59 243.32,460.59 243.7,460.6 244.08,460.6 244.47,460.61 244.85,460.61 245.23,460.62 245.62,460.62 246,460.63 246.38,460.63 246.77,460.63 247.15,460.64 247.53,460.64 247.92,460.65 248.3,460.65 248.68,460.66 249.07,460.66 249.45,460.66 249.83,460.67 250.22,460.67 250.6,460.68 250.98,460.68 251.37,460.68 251.75,460.69 252.13,460.69 252.52,460.69 252.9,460.7 253.28,460.7 253.67,460.7 254.05,460.71 254.43,460.71 254.82,460.71 255.2,460.72 255.58,460.72 255.97,460.72 256.35,460.73 256.73,460.73 257.12,460.73 257.5,460.74 257.88,460.74 258.27,460.74 258.65,460.74 259.03,460.75 259.42,460.75 259.8,460.75 260.18,460.75 260.57,460.76 260.95,460.76 261.33,460.76 261.72,460.76 262.1,460.77 262.48,460.77 262.87,460.77 263.25,460.77 263.63,460.78 264.02,460.78 264.4,460.78 264.78,460.78 265.17,460.79 265.55,460.79 265.93,460.79 266.32,460.79 266.7,460.79 267.08,460.8 267.47,460.8 267.85,460.8 268.23,460.8 268.62,460.8 269,460.81" fill="none" stroke="#6c6c3e" stroke-width="1.8" stroke-linejoin="round"/>
<polyline points="39,460.56 39.38,460.56 39.77,460.55 40.15,460.55 40.53,460.55 40.92,460.54 41.3,460.54 41.68,460.53 42.07,460.53 42.45,460.53 42.83,460.52 43.22,460.52 43.6,460.51 43.98,460.51 44.37,460.51 44.75,460.5 45.13,460.5 45.52,460.49 45.9,460.49 46.28,460.48 46.67,460.48 47.05,460.47 47.43,460.47 47.82,460.46 48.2,460.46 48.58,460.45 48.97,460.45 49.35,460.44 49.73,460.44 50.12,460.43 50.5,460.43 50.88,460.42 51.27,460.42 51.65,460.41 52.03,460.41 52.42,460.4 52.8,460.39 53.18,460.39 53.57,460.38 53.95,460.38 54.33,460.37 54.72,460.36 55.1,460.36 55.48,460.35 55.87,460.34 56.25,460.34 56.63,460.33 57.02,460.32 57.4,460.32 57.78,460.31 58.17,460.3 58.55,460.3 58.93,460.29 59.32,460.28 59.7,460.27 60.08,460.26 60.47,460.26 60.85,460.25 61.23,460.24 61.62,460.23 62,460.22 62.38,460.22 62.77,460.21 63.15,460.2 63.53,460.19 63.92,460.18 64.3,460.17 64.68,460.16 65.07,460.15 65.45,460.14 65.83,460.13 66.22,460.12 66.6,460.11 66.98,460.1 67.37,460.09 67.75,460.08 68.13,460.07 68.52,460.06 68.9,460.04 69.28,460.03 69.67,460.02 70.05,460.01 70.43,460 70.82,459.98 71.2,459.97 71.58,459.96 71.97,459.94 72.35,459.93 72.73,459.92 73.12,459.9 73.5,459.89 73.88,459.87 74.27,459.86 74.65,459.84 75.03,459.83 75.42,459.81 75.8,459.8 76.18,459.78 76.57,459.76 76.95,459.74 77.33,459.73 77.72,459.71 78.1,459.69 78.48,459.67 78.87,459.65 79.25,459.63 79.63,459.61 80.02,459.59 80.4,459.57 80.78,459.55 81.17,459.53 81.55,459.51 81.93,459.48 82.32,459.46 82.7,459.43 83.08,459.41 83.47,459.39 83.85,459.36 84.23,459.33 84.62,459.31 85,459.28 85.38,459.25 85.77,459.22 86.15,459.19 86.53,459.16 86.92,459.13 87.3,459.1 87.68,459.06 88.07,459.03 88.45,459 88.83,458.96 89.22,458.92 89.6,458.89 89.98,458.85 90.37,458.81 90.75,458.77 91.13,458.72 91.52,458.68 91.9,458.64 92.28,458.59 92.67,458.54 93.05,458.5 93.43,458.45 93.82,458.39 94.2,458.34 94.58,458.29 94.97,458.23 95.35,458.17 95.73,458.11 96.12,458.05 96.5,457.99 96.88,457.92 97.27,457.85 97.65,457.78 98.03,457.71 98.42,457.64 98.8,457.56 99.18,457.48 99.57,457.4 99.95,457.31 100.33,457.22 100.72,457.13 101.1,457.03 101.48,456.93 101.87,456.83 102.25,456.72 102.63,456.61 103.02,456.5 103.4,456.38 103.78,456.25 104.17,456.12 104.55,455.99 104.93,455.85 105.32,455.7 105.7,455.55 106.08,455.39 106.47,455.22 106.85,455.05 107.23,454.87 107.62,454.68 108,454.48 108.38,454.27 108.77,454.05 109.15,453.82 109.53,453.58 109.92,453.33 110.3,453.06 110.68,452.78 111.07,452.49 111.45,452.18 111.83,451.85 112.22,451.51 112.6,451.14 112.98,450.76 113.37,450.35 113.75,449.92 114.13,449.46 114.52,448.98 114.9,448.46 115.28,447.91 115.67,447.33 116.05,446.7 116.43,446.03 116.82,445.32 117.2,444.56 117.58,443.74 117.97,442.86 118.35,441.92 118.73,440.91 119.12,439.81 119.5,438.63 119.88,437.36 120.27,435.97 120.65,434.48 121.03,432.85 121.42,431.08 121.8,429.15 122.18,427.04 122.57,424.74 122.95,422.23 123.33,419.47 123.72,416.44 124.1,413.12 124.48,409.47 124.87,405.46 125.25,401.05 125.63,396.21 126.02,390.91 126.4,385.11 126.78,378.8 127.17,371.96 127.55,364.61 127.93,356.79 128.32,348.58 128.7,340.11 129.08,331.59 129.47,323.26 129.85,315.46 130.23,308.55 130.62,302.92 131,298.93 131.38,296.86 131.77,296.86 132.15,298.93 132.53,302.92 132.92,308.55 133.3,315.46 133.68,323.26 134.07,331.59 134.45,340.11 134.83,348.58 135.22,356.79 135.6,364.61 135.98,371.96 136.37,378.8 136.75,385.11 137.13,390.91 137.52,396.21 137.9,401.05 138.28,405.46 138.67,409.47 139.05,413.12 139.43,416.44 139.82,419.47 140.2,422.23 140.58,424.74 140.97,427.04 141.35,429.15 141.73,431.08 142.12,432.85 142.5,434.48 142.88,435.97 143.27,437.36 143.65,438.63 144.03,439.81 144.42,440.91 144.8,441.92 145.18,442.86 145.57,443.74 145.95,444.56 146.33,445.32 146.72,446.03 147.1,446.7 147.48,447.33 147.87,447.91 148.25,448.46 148.63,448.98 149.02,449.46 149.4,449.92 149.78,450.35 150.17,450.76 150.55,451.14 150.93,451.51 151.32,451.85 151.7,452.18 152.08,452.49 152.47,452.78 152.85,453.06 153.23,453.33 153.62,453.58 154,453.82 154.38,454.05 154.77,454.27 155.15,454.48 155.53,454.68 155.92,454.87 156.3,455.05 156.68,455.22 157.07,455.39 157.45,455.55 157.83,455.7 158.22,455.85 158.6,455.99 158.98,456.12 159.37,456.25 159.75,456.38 160.13,456.5 160.52,456.61 160.9,456.72 161.28,456.83 161.67,456.93 162.05,457.03 162.43,457.13 162.82,457.22 163.2,457.31 163.58,457.4 163.97,457.48 164.35,457.56 164.73,457.64 165.12,457.71 165.5,457.78 165.88,457.85 166.27,457.92 166.65,457.99 167.03,458.05 167.42,458.11 167.8,458.17 168.18,458.23 168.57,458.29 168.95,458.34 169.33,458.39 169.72,458.45 170.1,458.5 170.48,458.54 170.87,458.59 171.25,458.64 171.63,458.68 172.02,458.72 172.4,458.77 172.78,458.81 173.17,458.85 173.55,458.89 173.93,458.92 174.32,458.96 174.7,459 175.08,459.03 175.47,459.06 175.85,459.1 176.23,459.13 176.62,459.16 177,459.19 177.38,459.22 177.77,459.25 178.15,459.28 178.53,459.31 178.92,459.33 179.3,459.36 179.68,459.39 180.07,459.41 180.45,459.43 180.83,459.46 181.22,459.48 181.6,459.51 181.98,459.53 182.37,459.55 182.75,459.57 183.13,459.59 183.52,459.61 183.9,459.63 184.28,459.65 184.67,459.67 185.05,459.69 185.43,459.71 185.82,459.73 186.2,459.74 186.58,459.76 186.97,459.78 187.35,459.8 187.73,459.81 188.12,459.83 188.5,459.84 188.88,459.86 189.27,459.87 189.65,459.89 190.03,459.9 190.42,459.92 190.8,459.93 191.18,459.94 191.57,459.96 191.95,459.97 192.33,459.98 192.72,460 193.1,460.01 193.48,460.02 193.87,460.03 194.25,460.04 194.63,460.06 195.02,460.07 195.4,460.08 195.78,460.09 196.17,460.1 196.55,460.11 196.93,460.12 197.32,460.13 197.7,460.14 198.08,460.15 198.47,460.16 198.85,460.17 199.23,460.18 199.62,460.19 200,460.2 200.38,460.21 200.77,460.22 201.15,460.22 201.53,460.23 201.92,460.24 202.3,460.25 202.68,460.26 203.07,460.26 203.45,460.27 203.83,460.28 204.22,460.29 204.6,460.3 204.98,460.3 205.37,460.31 205.75,460.32 206.13,460.32 206.52,460.33 206.9,460.34 207.28,460.34 207.67,460.35 208.05,460.36 208.43,460.36 208.82,460.37 209.2,460.38 209.58,460.38 209.97,460.39 210.35,460.39 210.73,460.4 211.12,460.41 211.5,460.41 211.88,460.42 212.27,460.42 212.65,460.43 213.03,460.43 213.42,460.44 213.8,460.44 214.18,460.45 214.57,460.45 214.95,460.46 215.33,460.46 215.72,460.47 216.1,460.47 216.48,460.48 216.87,460.48 217.25,460.49 217.63,460.49 218.02,460.5 218.4,460.5 218.78,460.51 219.17,460.51 219.55,460.51 219.93,460.52 220.32,460.52 220.7,460.53 221.08,460.53 221.47,460.53 221.85,460.54 222.23,460.54 222.62,460.55 223,460.55 223.38,460.55 223.77,460.56 224.15,460.56 224.53,460.56 224.92,460.57 225.3,460.57 225.68,460.57 226.07,460.58 226.45,460.58 226.83,460.59 227.22,460.59 227.6,460.59 227.98,460.59 228.37,460.6 228.75,460.6 229.13,460.6 229.52,460.61 229.9,460.61 230.28,460.61 230.67,460.62 231.05,460.62 231.43,460.62 231.82,460.63 232.2,460.63 232.58,460.63 232.97,460.63 233.35,460.64 233.73,460.64 234.12,460.64 234.5,460.64 234.88,460.65 235.27,460.65 235.65,460.65 236.03,460.65 236.42,460.66 236.8,460.66 237.18,460.66 237.57,460.66 237.95,460.67 238.33,460.67 238.72,460.67 239.1,460.67 239.48,460.68 239.87,460.68 240.25,460.68 240.63,460.68 241.02,460.69 241.4,460.69 241.78,460.69 242.17,460.69 242.55,460.69 242.93,460.7 243.32,460.7 243.7,460.7 244.08,460.7 244.47,460.7 244.85,460.71 245.23,460.71 245.62,460.71 246,460.71 246.38,460.71 246.77,460.72 247.15,460.72 247.53,460.72 247.92,460.72 248.3,460.72 248.68,460.73 249.07,460.73 249.45,460.73 249.83,460.73 250.22,460.73 250.6,460.73 250.98,460.74 251.37,460.74 251.75,460.74 252.13,460.74 252.52,460.74 252.9,460.74 253.28,460.75 253.67,460.75 254.05,460.75 254.43,460.75 254.82,460.75 255.2,460.75 255.58,460.75 255.97,460.76 256.35,460.76 256.73,460.76 257.12,460.76 257.5,460.76 257.88,460.76 258.27,460.77 258.65,460.77 259.03,460.77 259.42,460.77 259.8,460.77 260.18,460.77 260.57,460.77 260.95,460.77 261.33,460.78 261.72,460.78 262.1,460.78 262.48,460.78 262.87,460.78 263.25,460.78 263.63,460.78 264.02,460.79 264.4,460.79 264.78,460.79 265.17,460.79 265.55,460.79 265.93,460.79 266.32,460.79 266.7,460.79 267.08,460.79 267.47,460.8 267.85,460.8 268.23,460.8 268.62,460.8 269,460.8" fill="none" stroke="#c4c4a0" stroke-width="1.8" stroke-linejoin="round"/>
<polyline points="39,460.72 39.38,460.72 39.77,460.72 40.15,460.72 40.53,460.71 40.92,460.71 41.3,460.71 41.68,460.71 42.07,460.7 42.45,460.7 42.83,460.7 43.22,460.7 43.6,460.69 43.98,460.69 44.37,460.69 44.75,460.69 45.13,460.68 45.52,460.68 45.9,460.68 46.28,460.68 46.67,460.67 47.05,460.67 47.43,460.67 47.82,460.66 48.2,460.66 48.58,460.66 48.97,460.65 49.35,460.65 49.73,460.65 50.12,460.64 50.5,460.64 50.88,460.64 51.27,460.63 51.65,460.63 52.03,460.63 52.42,460.62 52.8,460.62 53.18,460.62 53.57,460.61 53.95,460.61 54.33,460.61 54.72,460.6 55.1,460.6 55.48,460.59 55.87,460.59 56.25,460.59 56.63,460.58 57.02,460.58 57.4,460.57 57.78,460.57 58.17,460.56 58.55,460.56 58.93,460.55 59.32,460.55 59.7,460.55 60.08,460.54 60.47,460.54 60.85,460.53 61.23,460.53 61.62,460.52 62,460.52 62.38,460.51 62.77,460.51 63.15,460.5 63.53,460.49 63.92,460.49 64.3,460.48 64.68,460.48 65.07,460.47 65.45,460.47 65.83,460.46 66.22,460.45 66.6,460.45 66.98,460.44 67.37,460.43 67.75,460.43 68.13,460.42 68.52,460.41 68.9,460.41 69.28,460.4 69.67,460.39 70.05,460.38 70.43,460.38 70.82,460.37 71.2,460.36 71.58,460.35 71.97,460.35 72.35,460.34 72.73,460.33 73.12,460.32 73.5,460.31 73.88,460.3 74.27,460.29 74.65,460.28 75.03,460.27 75.42,460.26 75.8,460.25 76.18,460.24 76.57,460.23 76.95,460.22 77.33,460.21 77.72,460.2 78.1,460.19 78.48,460.18 78.87,460.17 79.25,460.16 79.63,460.14 80.02,460.13 80.4,460.12 80.78,460.11 81.17,460.09 81.55,460.08 81.93,460.07 82.32,460.05 82.7,460.04 83.08,460.02 83.47,460.01 83.85,459.99 84.23,459.98 84.62,459.96 85,459.94 85.38,459.93 85.77,459.91 86.15,459.89 86.53,459.87 86.92,459.85 87.3,459.83 87.68,459.81 88.07,459.79 88.45,459.77 88.83,459.75 89.22,459.73 89.6,459.71 89.98,459.69 90.37,459.66 90.75,459.64 91.13,459.61 91.52,459.59 91.9,459.56 92.28,459.53 92.67,459.51 93.05,459.48 93.43,459.45 93.82,459.42 94.2,459.39 94.58,459.35 94.97,459.32 95.35,459.29 95.73,459.25 96.12,459.22 96.5,459.18 96.88,459.14 97.27,459.1 97.65,459.06 98.03,459.02 98.42,458.97 98.8,458.93 99.18,458.88 99.57,458.83 99.95,458.78 100.33,458.73 100.72,458.68 101.1,458.62 101.48,458.56 101.87,458.5 102.25,458.44 102.63,458.38 103.02,458.31 103.4,458.24 103.78,458.17 104.17,458.1 104.55,458.02 104.93,457.94 105.32,457.85 105.7,457.77 106.08,457.68 106.47,457.58 106.85,457.48 107.23,457.38 107.62,457.27 108,457.16 108.38,457.04 108.77,456.91 109.15,456.79 109.53,456.65 109.92,456.51 110.3,456.36 110.68,456.2 111.07,456.04 111.45,455.86 111.83,455.68 112.22,455.49 112.6,455.29 112.98,455.07 113.37,454.85 113.75,454.61 114.13,454.35 114.52,454.08 114.9,453.8 115.28,453.5 115.67,453.18 116.05,452.84 116.43,452.47 116.82,452.08 117.2,451.67 117.58,451.22 117.97,450.74 118.35,450.23 118.73,449.68 119.12,449.09 119.5,448.45 119.88,447.76 120.27,447.02 120.65,446.21 121.03,445.33 121.42,444.38 121.8,443.33 122.18,442.19 122.57,440.95 122.95,439.58 123.33,438.07 123.72,436.41 124.1,434.57 124.48,432.53 124.87,430.27 125.25,427.75 125.63,424.94 126.02,421.79 126.4,418.27 126.78,414.3 127.17,409.85 127.55,404.84 127.93,399.2 128.32,392.87 128.7,385.78 129.08,377.88 129.47,369.16 129.85,359.63 130.23,349.43 130.62,338.77 131,328.01 131.38,317.69 131.77,308.49 132.15,301.15 132.53,296.41 132.92,294.76 133.3,296.41 133.68,301.15 134.07,308.49 134.45,317.69 134.83,328.01 135.22,338.77 135.6,349.43 135.98,359.63 136.37,369.16 136.75,377.88 137.13,385.78 137.52,392.87 137.9,399.2 138.28,404.84 138.67,409.85 139.05,414.3 139.43,418.27 139.82,421.79 140.2,424.94 140.58,427.75 140.97,430.27 141.35,432.53 141.73,434.57 142.12,436.41 142.5,438.07 142.88,439.58 143.27,440.95 143.65,442.19 144.03,443.33 144.42,444.38 144.8,445.33 145.18,446.21 145.57,447.02 145.95,447.76 146.33,448.45 146.72,449.09 147.1,449.68 147.48,450.23 147.87,450.74 148.25,451.22 148.63,451.67 149.02,452.08 149.4,452.47 149.78,452.84 150.17,453.18 150.55,453.5 150.93,453.8 151.32,454.08 151.7,454.35 152.08,454.61 152.47,454.85 152.85,455.07 153.23,455.29 153.62,455.49 154,455.68 154.38,455.86 154.77,456.04 155.15,456.2 155.53,456.36 155.92,456.51 156.3,456.65 156.68,456.79 157.07,456.91 157.45,457.04 157.83,457.16 158.22,457.27 158.6,457.38 158.98,457.48 159.37,457.58 159.75,457.68 160.13,457.77 160.52,457.85 160.9,457.94 161.28,458.02 161.67,458.1 162.05,458.17 162.43,458.24 162.82,458.31 163.2,458.38 163.58,458.44 163.97,458.5 164.35,458.56 164.73,458.62 165.12,458.68 165.5,458.73 165.88,458.78 166.27,458.83 166.65,458.88 167.03,458.93 167.42,458.97 167.8,459.02 168.18,459.06 168.57,459.1 168.95,459.14 169.33,459.18 169.72,459.22 170.1,459.25 170.48,459.29 170.87,459.32 171.25,459.35 171.63,459.39 172.02,459.42 172.4,459.45 172.78,459.48 173.17,459.51 173.55,459.53 173.93,459.56 174.32,459.59 174.7,459.61 175.08,459.64 175.47,459.66 175.85,459.69 176.23,459.71 176.62,459.73 177,459.75 177.38,459.77 177.77,459.79 178.15,459.81 178.53,459.83 178.92,459.85 179.3,459.87 179.68,459.89 180.07,459.91 180.45,459.93 180.83,459.94 181.22,459.96 181.6,459.98 181.98,459.99 182.37,460.01 182.75,460.02 183.13,460.04 183.52,460.05 183.9,460.07 184.28,460.08 184.67,460.09 185.05,460.11 185.43,460.12 185.82,460.13 186.2,460.14 186.58,460.16 186.97,460.17 187.35,460.18 187.73,460.19 188.12,460.2 188.5,460.21 188.88,460.22 189.27,460.23 189.65,460.24 190.03,460.25 190.42,460.26 190.8,460.27 191.18,460.28 191.57,460.29 191.95,460.3 192.33,460.31 192.72,460.32 193.1,460.33 193.48,460.34 193.87,460.35 194.25,460.35 194.63,460.36 195.02,460.37 195.4,460.38 195.78,460.38 196.17,460.39 196.55,460.4 196.93,460.41 197.32,460.41 197.7,460.42 198.08,460.43 198.47,460.43 198.85,460.44 199.23,460.45 199.62,460.45 200,460.46 200.38,460.47 200.77,460.47 201.15,460.48 201.53,460.48 201.92,460.49 202.3,460.49 202.68,460.5 203.07,460.51 203.45,460.51 203.83,460.52 204.22,460.52 204.6,460.53 204.98,460.53 205.37,460.54 205.75,460.54 206.13,460.55 206.52,460.55 206.9,460.55 207.28,460.56 207.67,460.56 208.05,460.57 208.43,460.57 208.82,460.58 209.2,460.58 209.58,460.59 209.97,460.59 210.35,460.59 210.73,460.6 211.12,460.6 211.5,460.61 211.88,460.61 212.27,460.61 212.65,460.62 213.03,460.62 213.42,460.62 213.8,460.63 214.18,460.63 214.57,460.63 214.95,460.64 215.33,460.64 215.72,460.64 216.1,460.65 216.48,460.65 216.87,460.65 217.25,460.66 217.63,460.66 218.02,460.66 218.4,460.67 218.78,460.67 219.17,460.67 219.55,460.68 219.93,460.68 220.32,460.68 220.7,460.68 221.08,460.69 221.47,460.69 221.85,460.69 222.23,460.69 222.62,460.7 223,460.7 223.38,460.7 223.77,460.7 224.15,460.71 224.53,460.71 224.92,460.71 225.3,460.71 225.68,460.72 226.07,460.72 226.45,460.72 226.83,460.72 227.22,460.73 227.6,460.73 227.98,460.73 228.37,460.73 228.75,460.73 229.13,460.74 229.52,460.74 229.9,460.74 230.28,460.74 230.67,460.74 231.05,460.75 231.43,460.75 231.82,460.75 232.2,460.75 232.58,460.75 232.97,460.76 233.35,460.76 233.73,460.76 234.12,460.76 234.5,460.76 234.88,460.77 235.27,460.77 235.65,460.77 236.03,460.77 236.42,460.77 236.8,460.77 237.18,460.78 237.57,460.78 237.95,460.78 238.33,460.78 238.72,460.78 239.1,460.78 239.48,460.79 239.87,460.79 240.25,460.79 240.63,460.79 241.02,460.79 241.4,460.79 241.78,460.79 242.17,460.8 242.55,460.8 242.93,460.8 243.32,460.8 243.7,460.8 244.08,460.8 244.47,460.8 244.85,460.81 245.23,460.81 245.62,460.81 246,460.81 246.38,460.81 246.77,460.81 247.15,460.81 247.53,460.81 247.92,460.82 248.3,460.82 248.68,460.82 249.07,460.82 249.45,460.82 249.83,460.82 250.22,460.82 250.6,460.82 250.98,460.82 251.37,460.83 251.75,460.83 252.13,460.83 252.52,460.83 252.9,460.83 253.28,460.83 253.67,460.83 254.05,460.83 254.43,460.83 254.82,460.84 255.2,460.84 255.58,460.84 255.97,460.84 256.35,460.84 256.73,460.84 257.12,460.84 257.5,460.84 257.88,460.84 258.27,460.84 258.65,460.85 259.03,460.85 259.42,460.85 259.8,460.85 260.18,460.85 260.57,460.85 260.95,460.85 261.33,460.85 261.72,460.85 262.1,460.85 262.48,460.85 262.87,460.86 263.25,460.86 263.63,460.86 264.02,460.86 264.4,460.86 264.78,460.86 265.17,460.86 265.55,460.86 265.93,460.86 266.32,460.86 266.7,460.86 267.08,460.86 267.47,460.87 267.85,460.87 268.23,460.87 268.62,460.87 269,460.87" fill="none" stroke="#d9d9bd" stroke-width="1.8" stroke-linejoin="round"/>
</g>
<text x="62.8" y="301.2" font-size="17" text-anchor="middle" fill="#000" stroke="#000" font-weight="normal" >(c)</text>
<text x="39.5" y="482.5" font-size="15.5" text-anchor="middle" fill="#000" stroke="#000" font-weight="normal" >-3</text>
<text x="77.83" y="482.5" font-size="15.5" text-anchor="middle" fill="#000" stroke="#000" font-weight="normal" >-2</text>
<text x="116.17" y="482.5" font-size="15.5" text-anchor="middle" fill="#000" stroke="#000" font-weight="normal" >-1</text>
<text x="154.5" y="482.5" font-size="15.5" text-anchor="middle" fill="#000" stroke="#000" font-weight="normal" >0</text>
<text x="192.83" y="482.5" font-size="15.5" text-anchor="middle" fill="#000" stroke="#000" font-weight="normal" >1</text>
<text x="231.17" y="482.5" font-size="15.5" text-anchor="middle" fill="#000" stroke="#000" font-weight="normal" >2</text>
<text x="269.5" y="482.5" font-size="15.5" text-anchor="middle" fill="#000" stroke="#000" font-weight="normal" >3</text>
<text x="34.5" y="466.5" font-size="15.5" text-anchor="end" fill="#000" stroke="#000" font-weight="normal" dy="0.8">0</text>
<text x="34.5" y="414.1" font-size="15.5" text-anchor="end" fill="#000" stroke="#000" font-weight="normal" dy="0.8">4</text>
<text x="34.5" y="361.7" font-size="15.5" text-anchor="end" fill="#000" stroke="#000" font-weight="normal" dy="0.8">8</text>
<text x="34.5" y="309.3" font-size="15.5" text-anchor="end" fill="#000" stroke="#000" font-weight="normal" dy="0.8">12</text>
<text x="154.5" y="501.7" font-size="17.2" text-anchor="middle" fill="#000" stroke="#000" font-weight="normal" >Propagation coordinate Z / mm</text>
<text transform="translate(12.5,439.5) rotate(-90)" stroke="#000" font-size="17.5">XUV intensity / a.u.</text>
<text x="144.7" y="299" font-size="17.4" text-anchor="start" fill="#c9c9a9" stroke="#c9c9a9" font-weight="bold" >H19</text>
<text x="82.5" y="363" font-size="17.4" text-anchor="start" fill="#adad85" stroke="#adad85" font-weight="bold" >H17</text>
<text x="167" y="387.6" font-size="17.4" text-anchor="start" fill="#6c6c3e" stroke="#6c6c3e" font-weight="bold" >H15</text>
<text x="186.2" y="441.3" font-size="17.4" text-anchor="start" fill="#3e3e20" stroke="#3e3e20" font-weight="bold" >H13</text>
<text x="220" y="455" font-size="17.4" text-anchor="start" fill="#222210" stroke="#222210" font-weight="bold" >H11</text>
<line x1="163" y1="450.5" x2="183" y2="439.5" stroke="#111" stroke-width="1.1"/>
<line x1="157.8" y1="459.7" x2="217" y2="449.6" stroke="#111" stroke-width="1.1"/>
<text x="457.5" y="270.7" font-size="18.5" text-anchor="middle" fill="#000" stroke="#000" font-weight="bold" >Flat-top beam</text>
<rect x="342.5" y="277.5" width="230" height="184" fill="none" stroke="#a0a0a0" stroke-width="1"/>
<path d="M342.5 461.5v-3M342.5 277.5v3M380.5 461.5v-3M380.5 277.5v3M419.5 461.5v-3M419.5 277.5v3M457.5 461.5v-3M457.5 277.5v3M495.5 461.5v-3M495.5 277.5v3M534.5 461.5v-3M534.5 277.5v3M572.5 461.5v-3M572.5 277.5v3M342.5 461.5h3M572.5 461.5h-3M342.5 435.5h3M572.5 435.5h-3M342.5 409.5h3M572.5 409.5h-3M342.5 382.5h3M572.5 382.5h-3M342.5 356.5h3M572.5 356.5h-3M342.5 330.5h3M572.5 330.5h-3M342.5 304.5h3M572.5 304.5h-3M342.5 278.5h3M572.5 278.5h-3" stroke="#a0a0a0" stroke-width="1" fill="none"/>
<g clip-path="url(#cd)">
<polyline points="342,460.37 342.38,460.37 342.77,460.37 343.15,460.36 343.53,460.36 343.92,460.35 344.3,460.35 344.68,460.35 345.07,460.34 345.45,460.34 345.83,460.33 346.22,460.33 346.6,460.32 346.98,460.32 347.37,460.31 347.75,460.31 348.13,460.31 348.52,460.3 348.9,460.3 349.28,460.29 349.67,460.29 350.05,460.28 350.43,460.28 350.82,460.27 351.2,460.27 351.58,460.26 351.97,460.26 352.35,460.25 352.73,460.25 353.12,460.24 353.5,460.24 353.88,460.23 354.27,460.23 354.65,460.22 355.03,460.22 355.42,460.21 355.8,460.21 356.18,460.2 356.57,460.19 356.95,460.19 357.33,460.18 357.72,460.18 358.1,460.17 358.48,460.16 358.87,460.16 359.25,460.15 359.63,460.15 360.02,460.14 360.4,460.13 360.78,460.13 361.17,460.12 361.55,460.12 361.93,460.11 362.32,460.1 362.7,460.1 363.08,460.09 363.47,460.08 363.85,460.08 364.23,460.07 364.62,460.06 365,460.06 365.38,460.05 365.77,460.04 366.15,460.03 366.53,460.03 366.92,460.02 367.3,460.01 367.68,460 368.07,460 368.45,459.99 368.83,459.98 369.22,459.97 369.6,459.97 369.98,459.96 370.37,459.95 370.75,459.94 371.13,459.93 371.52,459.92 371.9,459.92 372.28,459.91 372.67,459.9 373.05,459.89 373.43,459.88 373.82,459.87 374.2,459.86 374.58,459.86 374.97,459.85 375.35,459.84 375.73,459.83 376.12,459.82 376.5,459.81 376.88,459.8 377.27,459.79 377.65,459.78 378.03,459.77 378.42,459.76 378.8,459.75 379.18,459.74 379.57,459.73 379.95,459.72 380.33,459.71 380.72,459.7 381.1,459.69 381.48,459.67 381.87,459.66 382.25,459.65 382.63,459.64 383.02,459.63 383.4,459.62 383.78,459.61 384.17,459.59 384.55,459.58 384.93,459.57 385.32,459.56 385.7,459.55 386.08,459.53 386.47,459.52 386.85,459.51 387.23,459.5 387.62,459.48 388,459.47 388.38,459.46 388.77,459.44 389.15,459.43 389.53,459.42 389.92,459.4 390.3,459.39 390.68,459.37 391.07,459.36 391.45,459.34 391.83,459.33 392.22,459.31 392.6,459.3 392.98,459.28 393.37,459.27 393.75,459.25 394.13,459.24 394.52,459.22 394.9,459.21 395.28,459.19 395.67,459.17 396.05,459.16 396.43,459.14 396.82,459.12 397.2,459.11 397.58,459.09 397.97,459.07 398.35,459.06 398.73,459.04 399.12,459.02 399.5,459 399.88,458.98 400.27,458.97 400.65,458.95 401.03,458.93 401.42,458.91 401.8,458.89 402.18,458.87 402.57,458.85 402.95,458.83 403.33,458.81 403.72,458.79 404.1,458.77 404.48,458.75 404.87,458.73 405.25,458.71 405.63,458.69 406.02,458.67 406.4,458.65 406.78,458.63 407.17,458.61 407.55,458.58 407.93,458.56 408.32,458.54 408.7,458.52 409.08,458.49 409.47,458.47 409.85,458.45 410.23,458.43 410.62,458.4 411,458.38 411.38,458.36 411.77,458.33 412.15,458.31 412.53,458.28 412.92,458.26 413.3,458.24 413.68,458.21 414.07,458.19 414.45,458.16 414.83,458.14 415.22,458.11 415.6,458.09 415.98,458.06 416.37,458.04 416.75,458.01 417.13,457.99 417.52,457.96 417.9,457.93 418.28,457.91 418.67,457.88 419.05,457.86 419.43,457.83 419.82,457.8 420.2,457.78 420.58,457.75 420.97,457.73 421.35,457.7 421.73,457.67 422.12,457.65 422.5,457.62 422.88,457.59 423.27,457.57 423.65,457.54 424.03,457.51 424.42,457.49 424.8,457.46 425.18,457.44 425.57,457.41 425.95,457.39 426.33,457.36 426.72,457.33 427.1,457.31 427.48,457.28 427.87,457.26 428.25,457.23 428.63,457.21 429.02,457.18 429.4,457.16 429.78,457.14 430.17,457.11 430.55,457.09 430.93,457.07 431.32,457.04 431.7,457.02 432.08,457 432.47,456.98 432.85,456.96 433.23,456.93 433.62,456.91 434,456.89 434.38,456.87 434.77,456.85 435.15,456.84 435.53,456.82 435.92,456.8 436.3,456.78 436.68,456.76 437.07,456.75 437.45,456.73 437.83,456.72 438.22,456.7 438.6,456.69 438.98,456.68 439.37,456.66 439.75,456.65 440.13,456.64 440.52,456.63 440.9,456.62 441.28,456.61 441.67,456.6 442.05,456.59 442.43,456.58 442.82,456.58 443.2,456.57 443.58,456.56 443.97,456.56 444.35,456.56 444.73,456.55 445.12,456.55 445.5,456.55 445.88,456.55 446.27,456.55 446.65,456.55 447.03,456.55 447.42,456.55 447.8,456.55 448.18,456.56 448.57,456.56 448.95,456.56 449.33,456.57 449.72,456.58 450.1,456.58 450.48,456.59 450.87,456.6 451.25,456.61 451.63,456.62 452.02,456.63 452.4,456.64 452.78,456.65 453.17,456.66 453.55,456.68 453.93,456.69 454.32,456.7 454.7,456.72 455.08,456.73 455.47,456.75 455.85,456.76 456.23,456.78 456.62,456.8 457,456.82 457.38,456.84 457.77,456.85 458.15,456.87 458.53,456.89 458.92,456.91 459.3,456.93 459.68,456.96 460.07,456.98 460.45,457 460.83,457.02 461.22,457.04 461.6,457.07 461.98,457.09 462.37,457.11 462.75,457.14 463.13,457.16 463.52,457.18 463.9,457.21 464.28,457.23 464.67,457.26 465.05,457.28 465.43,457.31 465.82,457.33 466.2,457.36 466.58,457.39 466.97,457.41 467.35,457.44 467.73,457.46 468.12,457.49 468.5,457.51 468.88,457.54 469.27,457.57 469.65,457.59 470.03,457.62 470.42,457.65 470.8,457.67 471.18,457.7 471.57,457.73 471.95,457.75 472.33,457.78 472.72,457.8 473.1,457.83 473.48,457.86 473.87,457.88 474.25,457.91 474.63,457.93 475.02,457.96 475.4,457.99 475.78,458.01 476.17,458.04 476.55,458.06 476.93,458.09 477.32,458.11 477.7,458.14 478.08,458.16 478.47,458.19 478.85,458.21 479.23,458.24 479.62,458.26 480,458.28 480.38,458.31 480.77,458.33 481.15,458.36 481.53,458.38 481.92,458.4 482.3,458.43 482.68,458.45 483.07,458.47 483.45,458.49 483.83,458.52 484.22,458.54 484.6,458.56 484.98,458.58 485.37,458.61 485.75,458.63 486.13,458.65 486.52,458.67 486.9,458.69 487.28,458.71 487.67,458.73 488.05,458.75 488.43,458.77 488.82,458.79 489.2,458.81 489.58,458.83 489.97,458.85 490.35,458.87 490.73,458.89 491.12,458.91 491.5,458.93 491.88,458.95 492.27,458.97 492.65,458.98 493.03,459 493.42,459.02 493.8,459.04 494.18,459.06 494.57,459.07 494.95,459.09 495.33,459.11 495.72,459.12 496.1,459.14 496.48,459.16 496.87,459.17 497.25,459.19 497.63,459.21 498.02,459.22 498.4,459.24 498.78,459.25 499.17,459.27 499.55,459.28 499.93,459.3 500.32,459.31 500.7,459.33 501.08,459.34 501.47,459.36 501.85,459.37 502.23,459.39 502.62,459.4 503,459.42 503.38,459.43 503.77,459.44 504.15,459.46 504.53,459.47 504.92,459.48 505.3,459.5 505.68,459.51 506.07,459.52 506.45,459.53 506.83,459.55 507.22,459.56 507.6,459.57 507.98,459.58 508.37,459.59 508.75,459.61 509.13,459.62 509.52,459.63 509.9,459.64 510.28,459.65 510.67,459.66 511.05,459.67 511.43,459.69 511.82,459.7 512.2,459.71 512.58,459.72 512.97,459.73 513.35,459.74 513.73,459.75 514.12,459.76 514.5,459.77 514.88,459.78 515.27,459.79 515.65,459.8 516.03,459.81 516.42,459.82 516.8,459.83 517.18,459.84 517.57,459.85 517.95,459.86 518.33,459.86 518.72,459.87 519.1,459.88 519.48,459.89 519.87,459.9 520.25,459.91 520.63,459.92 521.02,459.92 521.4,459.93 521.78,459.94 522.17,459.95 522.55,459.96 522.93,459.97 523.32,459.97 523.7,459.98 524.08,459.99 524.47,460 524.85,460 525.23,460.01 525.62,460.02 526,460.03 526.38,460.03 526.77,460.04 527.15,460.05 527.53,460.06 527.92,460.06 528.3,460.07 528.68,460.08 529.07,460.08 529.45,460.09 529.83,460.1 530.22,460.1 530.6,460.11 530.98,460.12 531.37,460.12 531.75,460.13 532.13,460.13 532.52,460.14 532.9,460.15 533.28,460.15 533.67,460.16 534.05,460.16 534.43,460.17 534.82,460.18 535.2,460.18 535.58,460.19 535.97,460.19 536.35,460.2 536.73,460.21 537.12,460.21 537.5,460.22 537.88,460.22 538.27,460.23 538.65,460.23 539.03,460.24 539.42,460.24 539.8,460.25 540.18,460.25 540.57,460.26 540.95,460.26 541.33,460.27 541.72,460.27 542.1,460.28 542.48,460.28 542.87,460.29 543.25,460.29 543.63,460.3 544.02,460.3 544.4,460.31 544.78,460.31 545.17,460.31 545.55,460.32 545.93,460.32 546.32,460.33 546.7,460.33 547.08,460.34 547.47,460.34 547.85,460.35 548.23,460.35 548.62,460.35 549,460.36 549.38,460.36 549.77,460.37 550.15,460.37 550.53,460.37 550.92,460.38 551.3,460.38 551.68,460.39 552.07,460.39 552.45,460.39 552.83,460.4 553.22,460.4 553.6,460.4 553.98,460.41 554.37,460.41 554.75,460.42 555.13,460.42 555.52,460.42 555.9,460.43 556.28,460.43 556.67,460.43 557.05,460.44 557.43,460.44 557.82,460.44 558.2,460.45 558.58,460.45 558.97,460.45 559.35,460.46 559.73,460.46 560.12,460.46 560.5,460.47 560.88,460.47 561.27,460.47 561.65,460.48 562.03,460.48 562.42,460.48 562.8,460.48 563.18,460.49 563.57,460.49 563.95,460.49 564.33,460.5 564.72,460.5 565.1,460.5 565.48,460.5 565.87,460.51 566.25,460.51 566.63,460.51 567.02,460.52 567.4,460.52 567.78,460.52 568.17,460.52 568.55,460.53 568.93,460.53 569.32,460.53 569.7,460.53 570.08,460.54 570.47,460.54 570.85,460.54 571.23,460.54 571.62,460.55 572,460.55" fill="none" stroke="#0a1aa0" stroke-width="2.0" stroke-linejoin="round"/>
<polyline points="342,459.37 342.38,459.36 342.77,459.36 343.15,459.35 343.53,459.34 343.92,459.33 344.3,459.32 344.68,459.31 345.07,459.3 345.45,459.29 345.83,459.28 346.22,459.27 346.6,459.26 346.98,459.25 347.37,459.23 347.75,459.22 348.13,459.21 348.52,459.2 348.9,459.19 349.28,459.18 349.67,459.17 350.05,459.16 350.43,459.15 350.82,459.14 351.2,459.12 351.58,459.11 351.97,459.1 352.35,459.09 352.73,459.08 353.12,459.07 353.5,459.05 353.88,459.04 354.27,459.03 354.65,459.02 355.03,459 355.42,458.99 355.8,458.98 356.18,458.97 356.57,458.95 356.95,458.94 357.33,458.93 357.72,458.91 358.1,458.9 358.48,458.89 358.87,458.87 359.25,458.86 359.63,458.85 360.02,458.83 360.4,458.82 360.78,458.8 361.17,458.79 361.55,458.77 361.93,458.76 362.32,458.74 362.7,458.73 363.08,458.71 363.47,458.7 363.85,458.68 364.23,458.67 364.62,458.65 365,458.64 365.38,458.62 365.77,458.6 366.15,458.59 366.53,458.57 366.92,458.55 367.3,458.54 367.68,458.52 368.07,458.5 368.45,458.49 368.83,458.47 369.22,458.45 369.6,458.43 369.98,458.41 370.37,458.4 370.75,458.38 371.13,458.36 371.52,458.34 371.9,458.32 372.28,458.3 372.67,458.28 373.05,458.26 373.43,458.24 373.82,458.22 374.2,458.2 374.58,458.18 374.97,458.16 375.35,458.14 375.73,458.12 376.12,458.1 376.5,458.08 376.88,458.06 377.27,458.03 377.65,458.01 378.03,457.99 378.42,457.97 378.8,457.95 379.18,457.92 379.57,457.9 379.95,457.88 380.33,457.85 380.72,457.83 381.1,457.8 381.48,457.78 381.87,457.75 382.25,457.73 382.63,457.7 383.02,457.68 383.4,457.65 383.78,457.63 384.17,457.6 384.55,457.57 384.93,457.55 385.32,457.52 385.7,457.49 386.08,457.46 386.47,457.44 386.85,457.41 387.23,457.38 387.62,457.35 388,457.32 388.38,457.29 388.77,457.26 389.15,457.23 389.53,457.2 389.92,457.17 390.3,457.14 390.68,457.11 391.07,457.07 391.45,457.04 391.83,457.01 392.22,456.98 392.6,456.94 392.98,456.91 393.37,456.87 393.75,456.84 394.13,456.8 394.52,456.77 394.9,456.73 395.28,456.7 395.67,456.66 396.05,456.62 396.43,456.59 396.82,456.55 397.2,456.51 397.58,456.47 397.97,456.43 398.35,456.39 398.73,456.35 399.12,456.31 399.5,456.27 399.88,456.23 400.27,456.19 400.65,456.15 401.03,456.1 401.42,456.06 401.8,456.02 402.18,455.97 402.57,455.93 402.95,455.88 403.33,455.84 403.72,455.79 404.1,455.74 404.48,455.7 404.87,455.65 405.25,455.6 405.63,455.55 406.02,455.5 406.4,455.45 406.78,455.4 407.17,455.35 407.55,455.3 407.93,455.25 408.32,455.19 408.7,455.14 409.08,455.09 409.47,455.03 409.85,454.98 410.23,454.92 410.62,454.86 411,454.81 411.38,454.75 411.77,454.69 412.15,454.63 412.53,454.57 412.92,454.51 413.3,454.45 413.68,454.39 414.07,454.33 414.45,454.26 414.83,454.2 415.22,454.13 415.6,454.07 415.98,454 416.37,453.94 416.75,453.87 417.13,453.8 417.52,453.73 417.9,453.66 418.28,453.59 418.67,453.52 419.05,453.45 419.43,453.38 419.82,453.31 420.2,453.23 420.58,453.16 420.97,453.08 421.35,453.01 421.73,452.93 422.12,452.86 422.5,452.78 422.88,452.7 423.27,452.62 423.65,452.54 424.03,452.46 424.42,452.38 424.8,452.29 425.18,452.21 425.57,452.13 425.95,452.04 426.33,451.96 426.72,451.87 427.1,451.79 427.48,451.7 427.87,451.61 428.25,451.52 428.63,451.43 429.02,451.35 429.4,451.25 429.78,451.16 430.17,451.07 430.55,450.98 430.93,450.89 431.32,450.79 431.7,450.7 432.08,450.61 432.47,450.51 432.85,450.42 433.23,450.32 433.62,450.23 434,450.13 434.38,450.03 434.77,449.94 435.15,449.84 435.53,449.74 435.92,449.64 436.3,449.54 436.68,449.45 437.07,449.35 437.45,449.25 437.83,449.15 438.22,449.05 438.6,448.95 438.98,448.85 439.37,448.75 439.75,448.66 440.13,448.56 440.52,448.46 440.9,448.36 441.28,448.26 441.67,448.17 442.05,448.07 442.43,447.97 442.82,447.88 443.2,447.78 443.58,447.69 443.97,447.59 444.35,447.5 444.73,447.41 445.12,447.31 445.5,447.22 445.88,447.13 446.27,447.04 446.65,446.96 447.03,446.87 447.42,446.78 447.8,446.7 448.18,446.62 448.57,446.53 448.95,446.45 449.33,446.38 449.72,446.3 450.1,446.22 450.48,446.15 450.87,446.08 451.25,446.01 451.63,445.94 452.02,445.88 452.4,445.81 452.78,445.75 453.17,445.69 453.55,445.63 453.93,445.58 454.32,445.52 454.7,445.47 455.08,445.43 455.47,445.38 455.85,445.34 456.23,445.3 456.62,445.26 457,445.22 457.38,445.19 457.77,445.16 458.15,445.13 458.53,445.11 458.92,445.09 459.3,445.07 459.68,445.05 460.07,445.04 460.45,445.03 460.83,445.02 461.22,445.02 461.6,445.02 461.98,445.02 462.37,445.02 462.75,445.03 463.13,445.04 463.52,445.05 463.9,445.07 464.28,445.09 464.67,445.11 465.05,445.13 465.43,445.16 465.82,445.19 466.2,445.22 466.58,445.26 466.97,445.3 467.35,445.34 467.73,445.38 468.12,445.43 468.5,445.47 468.88,445.52 469.27,445.58 469.65,445.63 470.03,445.69 470.42,445.75 470.8,445.81 471.18,445.88 471.57,445.94 471.95,446.01 472.33,446.08 472.72,446.15 473.1,446.22 473.48,446.3 473.87,446.38 474.25,446.45 474.63,446.53 475.02,446.62 475.4,446.7 475.78,446.78 476.17,446.87 476.55,446.96 476.93,447.04 477.32,447.13 477.7,447.22 478.08,447.31 478.47,447.41 478.85,447.5 479.23,447.59 479.62,447.69 480,447.78 480.38,447.88 480.77,447.97 481.15,448.07 481.53,448.17 481.92,448.26 482.3,448.36 482.68,448.46 483.07,448.56 483.45,448.66 483.83,448.75 484.22,448.85 484.6,448.95 484.98,449.05 485.37,449.15 485.75,449.25 486.13,449.35 486.52,449.45 486.9,449.54 487.28,449.64 487.67,449.74 488.05,449.84 488.43,449.94 488.82,450.03 489.2,450.13 489.58,450.23 489.97,450.32 490.35,450.42 490.73,450.51 491.12,450.61 491.5,450.7 491.88,450.79 492.27,450.89 492.65,450.98 493.03,451.07 493.42,451.16 493.8,451.25 494.18,451.35 494.57,451.43 494.95,451.52 495.33,451.61 495.72,451.7 496.1,451.79 496.48,451.87 496.87,451.96 497.25,452.04 497.63,452.13 498.02,452.21 498.4,452.29 498.78,452.38 499.17,452.46 499.55,452.54 499.93,452.62 500.32,452.7 500.7,452.78 501.08,452.86 501.47,452.93 501.85,453.01 502.23,453.08 502.62,453.16 503,453.23 503.38,453.31 503.77,453.38 504.15,453.45 504.53,453.52 504.92,453.59 505.3,453.66 505.68,453.73 506.07,453.8 506.45,453.87 506.83,453.94 507.22,454 507.6,454.07 507.98,454.13 508.37,454.2 508.75,454.26 509.13,454.33 509.52,454.39 509.9,454.45 510.28,454.51 510.67,454.57 511.05,454.63 511.43,454.69 511.82,454.75 512.2,454.81 512.58,454.86 512.97,454.92 513.35,454.98 513.73,455.03 514.12,455.09 514.5,455.14 514.88,455.19 515.27,455.25 515.65,455.3 516.03,455.35 516.42,455.4 516.8,455.45 517.18,455.5 517.57,455.55 517.95,455.6 518.33,455.65 518.72,455.7 519.1,455.74 519.48,455.79 519.87,455.84 520.25,455.88 520.63,455.93 521.02,455.97 521.4,456.02 521.78,456.06 522.17,456.1 522.55,456.15 522.93,456.19 523.32,456.23 523.7,456.27 524.08,456.31 524.47,456.35 524.85,456.39 525.23,456.43 525.62,456.47 526,456.51 526.38,456.55 526.77,456.59 527.15,456.62 527.53,456.66 527.92,456.7 528.3,456.73 528.68,456.77 529.07,456.8 529.45,456.84 529.83,456.87 530.22,456.91 530.6,456.94 530.98,456.98 531.37,457.01 531.75,457.04 532.13,457.07 532.52,457.11 532.9,457.14 533.28,457.17 533.67,457.2 534.05,457.23 534.43,457.26 534.82,457.29 535.2,457.32 535.58,457.35 535.97,457.38 536.35,457.41 536.73,457.44 537.12,457.46 537.5,457.49 537.88,457.52 538.27,457.55 538.65,457.57 539.03,457.6 539.42,457.63 539.8,457.65 540.18,457.68 540.57,457.7 540.95,457.73 541.33,457.75 541.72,457.78 542.1,457.8 542.48,457.83 542.87,457.85 543.25,457.88 543.63,457.9 544.02,457.92 544.4,457.95 544.78,457.97 545.17,457.99 545.55,458.01 545.93,458.03 546.32,458.06 546.7,458.08 547.08,458.1 547.47,458.12 547.85,458.14 548.23,458.16 548.62,458.18 549,458.2 549.38,458.22 549.77,458.24 550.15,458.26 550.53,458.28 550.92,458.3 551.3,458.32 551.68,458.34 552.07,458.36 552.45,458.38 552.83,458.4 553.22,458.41 553.6,458.43 553.98,458.45 554.37,458.47 554.75,458.49 555.13,458.5 555.52,458.52 555.9,458.54 556.28,458.55 556.67,458.57 557.05,458.59 557.43,458.6 557.82,458.62 558.2,458.64 558.58,458.65 558.97,458.67 559.35,458.68 559.73,458.7 560.12,458.71 560.5,458.73 560.88,458.74 561.27,458.76 561.65,458.77 562.03,458.79 562.42,458.8 562.8,458.82 563.18,458.83 563.57,458.85 563.95,458.86 564.33,458.87 564.72,458.89 565.1,458.9 565.48,458.91 565.87,458.93 566.25,458.94 566.63,458.95 567.02,458.97 567.4,458.98 567.78,458.99 568.17,459 568.55,459.02 568.93,459.03 569.32,459.04 569.7,459.05 570.08,459.07 570.47,459.08 570.85,459.09 571.23,459.1 571.62,459.11 572,459.12" fill="none" stroke="#1a3ccc" stroke-width="2.0" stroke-linejoin="round"/>
<polyline points="342,459.32 342.38,459.32 342.77,459.31 343.15,459.3 343.53,459.29 343.92,459.28 344.3,459.27 344.68,459.26 345.07,459.25 345.45,459.25 345.83,459.24 346.22,459.23 346.6,459.22 346.98,459.21 347.37,459.2 347.75,459.19 348.13,459.18 348.52,459.17 348.9,459.16 349.28,459.15 349.67,459.14 350.05,459.13 350.43,459.12 350.82,459.11 351.2,459.1 351.58,459.09 351.97,459.08 352.35,459.07 352.73,459.06 353.12,459.05 353.5,459.04 353.88,459.03 354.27,459.02 354.65,459.01 355.03,459 355.42,458.99 355.8,458.98 356.18,458.97 356.57,458.96 356.95,458.95 357.33,458.93 357.72,458.92 358.1,458.91 358.48,458.9 358.87,458.89 359.25,458.88 359.63,458.86 360.02,458.85 360.4,458.84 360.78,458.83 361.17,458.82 361.55,458.8 361.93,458.79 362.32,458.78 362.7,458.77 363.08,458.75 363.47,458.74 363.85,458.73 364.23,458.71 364.62,458.7 365,458.69 365.38,458.67 365.77,458.66 366.15,458.65 366.53,458.63 366.92,458.62 367.3,458.61 367.68,458.59 368.07,458.58 368.45,458.56 368.83,458.55 369.22,458.53 369.6,458.52 369.98,458.51 370.37,458.49 370.75,458.48 371.13,458.46 371.52,458.44 371.9,458.43 372.28,458.41 372.67,458.4 373.05,458.38 373.43,458.37 373.82,458.35 374.2,458.33 374.58,458.32 374.97,458.3 375.35,458.28 375.73,458.27 376.12,458.25 376.5,458.23 376.88,458.22 377.27,458.2 377.65,458.18 378.03,458.16 378.42,458.15 378.8,458.13 379.18,458.11 379.57,458.09 379.95,458.07 380.33,458.05 380.72,458.03 381.1,458.02 381.48,458 381.87,457.98 382.25,457.96 382.63,457.94 383.02,457.92 383.4,457.9 383.78,457.88 384.17,457.86 384.55,457.84 384.93,457.81 385.32,457.79 385.7,457.77 386.08,457.75 386.47,457.73 386.85,457.71 387.23,457.69 387.62,457.66 388,457.64 388.38,457.62 388.77,457.59 389.15,457.57 389.53,457.55 389.92,457.52 390.3,457.5 390.68,457.48 391.07,457.45 391.45,457.43 391.83,457.4 392.22,457.38 392.6,457.35 392.98,457.33 393.37,457.3 393.75,457.28 394.13,457.25 394.52,457.22 394.9,457.2 395.28,457.17 395.67,457.14 396.05,457.11 396.43,457.09 396.82,457.06 397.2,457.03 397.58,457 397.97,456.97 398.35,456.94 398.73,456.91 399.12,456.88 399.5,456.85 399.88,456.82 400.27,456.79 400.65,456.76 401.03,456.73 401.42,456.7 401.8,456.67 402.18,456.63 402.57,456.6 402.95,456.57 403.33,456.53 403.72,456.5 404.1,456.47 404.48,456.43 404.87,456.4 405.25,456.36 405.63,456.33 406.02,456.29 406.4,456.25 406.78,456.22 407.17,456.18 407.55,456.14 407.93,456.11 408.32,456.07 408.7,456.03 409.08,455.99 409.47,455.95 409.85,455.91 410.23,455.87 410.62,455.83 411,455.79 411.38,455.75 411.77,455.7 412.15,455.66 412.53,455.62 412.92,455.58 413.3,455.53 413.68,455.49 414.07,455.44 414.45,455.4 414.83,455.35 415.22,455.31 415.6,455.26 415.98,455.21 416.37,455.16 416.75,455.12 417.13,455.07 417.52,455.02 417.9,454.97 418.28,454.92 418.67,454.87 419.05,454.82 419.43,454.76 419.82,454.71 420.2,454.66 420.58,454.61 420.97,454.55 421.35,454.5 421.73,454.44 422.12,454.38 422.5,454.33 422.88,454.27 423.27,454.21 423.65,454.16 424.03,454.1 424.42,454.04 424.8,453.98 425.18,453.91 425.57,453.85 425.95,453.79 426.33,453.73 426.72,453.66 427.1,453.6 427.48,453.54 427.87,453.47 428.25,453.4 428.63,453.34 429.02,453.27 429.4,453.2 429.78,453.13 430.17,453.06 430.55,452.99 430.93,452.92 431.32,452.85 431.7,452.77 432.08,452.7 432.47,452.62 432.85,452.55 433.23,452.47 433.62,452.4 434,452.32 434.38,452.24 434.77,452.16 435.15,452.08 435.53,452 435.92,451.92 436.3,451.84 436.68,451.75 437.07,451.67 437.45,451.58 437.83,451.5 438.22,451.41 438.6,451.32 438.98,451.24 439.37,451.15 439.75,451.06 440.13,450.97 440.52,450.87 440.9,450.78 441.28,450.69 441.67,450.59 442.05,450.5 442.43,450.4 442.82,450.31 443.2,450.21 443.58,450.11 443.97,450.01 444.35,449.91 444.73,449.81 445.12,449.71 445.5,449.61 445.88,449.5 446.27,449.4 446.65,449.29 447.03,449.19 447.42,449.08 447.8,448.98 448.18,448.87 448.57,448.76 448.95,448.65 449.33,448.54 449.72,448.43 450.1,448.32 450.48,448.2 450.87,448.09 451.25,447.98 451.63,447.86 452.02,447.75 452.4,447.63 452.78,447.52 453.17,447.4 453.55,447.28 453.93,447.17 454.32,447.05 454.7,446.93 455.08,446.81 455.47,446.69 455.85,446.57 456.23,446.45 456.62,446.33 457,446.21 457.38,446.09 457.77,445.97 458.15,445.85 458.53,445.73 458.92,445.61 459.3,445.49 459.68,445.37 460.07,445.25 460.45,445.13 460.83,445.01 461.22,444.89 461.6,444.77 461.98,444.65 462.37,444.53 462.75,444.41 463.13,444.3 463.52,444.18 463.9,444.06 464.28,443.95 464.67,443.83 465.05,443.72 465.43,443.61 465.82,443.49 466.2,443.38 466.58,443.27 466.97,443.16 467.35,443.06 467.73,442.95 468.12,442.85 468.5,442.74 468.88,442.64 469.27,442.54 469.65,442.44 470.03,442.35 470.42,442.25 470.8,442.16 471.18,442.07 471.57,441.98 471.95,441.89 472.33,441.81 472.72,441.73 473.1,441.65 473.48,441.57 473.87,441.49 474.25,441.42 474.63,441.35 475.02,441.28 475.4,441.22 475.78,441.16 476.17,441.1 476.55,441.04 476.93,440.99 477.32,440.94 477.7,440.89 478.08,440.85 478.47,440.8 478.85,440.77 479.23,440.73 479.62,440.7 480,440.67 480.38,440.65 480.77,440.62 481.15,440.61 481.53,440.59 481.92,440.58 482.3,440.57 482.68,440.57 483.07,440.56 483.45,440.57 483.83,440.57 484.22,440.58 484.6,440.59 484.98,440.61 485.37,440.62 485.75,440.65 486.13,440.67 486.52,440.7 486.9,440.73 487.28,440.77 487.67,440.8 488.05,440.85 488.43,440.89 488.82,440.94 489.2,440.99 489.58,441.04 489.97,441.1 490.35,441.16 490.73,441.22 491.12,441.28 491.5,441.35 491.88,441.42 492.27,441.49 492.65,441.57 493.03,441.65 493.42,441.73 493.8,441.81 494.18,441.89 494.57,441.98 494.95,442.07 495.33,442.16 495.72,442.25 496.1,442.35 496.48,442.44 496.87,442.54 497.25,442.64 497.63,442.74 498.02,442.85 498.4,442.95 498.78,443.06 499.17,443.16 499.55,443.27 499.93,443.38 500.32,443.49 500.7,443.61 501.08,443.72 501.47,443.83 501.85,443.95 502.23,444.06 502.62,444.18 503,444.3 503.38,444.41 503.77,444.53 504.15,444.65 504.53,444.77 504.92,444.89 505.3,445.01 505.68,445.13 506.07,445.25 506.45,445.37 506.83,445.49 507.22,445.61 507.6,445.73 507.98,445.85 508.37,445.97 508.75,446.09 509.13,446.21 509.52,446.33 509.9,446.45 510.28,446.57 510.67,446.69 511.05,446.81 511.43,446.93 511.82,447.05 512.2,447.17 512.58,447.28 512.97,447.4 513.35,447.52 513.73,447.63 514.12,447.75 514.5,447.86 514.88,447.98 515.27,448.09 515.65,448.2 516.03,448.32 516.42,448.43 516.8,448.54 517.18,448.65 517.57,448.76 517.95,448.87 518.33,448.98 518.72,449.08 519.1,449.19 519.48,449.29 519.87,449.4 520.25,449.5 520.63,449.61 521.02,449.71 521.4,449.81 521.78,449.91 522.17,450.01 522.55,450.11 522.93,450.21 523.32,450.31 523.7,450.4 524.08,450.5 524.47,450.59 524.85,450.69 525.23,450.78 525.62,450.87 526,450.97 526.38,451.06 526.77,451.15 527.15,451.24 527.53,451.32 527.92,451.41 528.3,451.5 528.68,451.58 529.07,451.67 529.45,451.75 529.83,451.84 530.22,451.92 530.6,452 530.98,452.08 531.37,452.16 531.75,452.24 532.13,452.32 532.52,452.4 532.9,452.47 533.28,452.55 533.67,452.62 534.05,452.7 534.43,452.77 534.82,452.85 535.2,452.92 535.58,452.99 535.97,453.06 536.35,453.13 536.73,453.2 537.12,453.27 537.5,453.34 537.88,453.4 538.27,453.47 538.65,453.54 539.03,453.6 539.42,453.66 539.8,453.73 540.18,453.79 540.57,453.85 540.95,453.91 541.33,453.98 541.72,454.04 542.1,454.1 542.48,454.16 542.87,454.21 543.25,454.27 543.63,454.33 544.02,454.38 544.4,454.44 544.78,454.5 545.17,454.55 545.55,454.61 545.93,454.66 546.32,454.71 546.7,454.76 547.08,454.82 547.47,454.87 547.85,454.92 548.23,454.97 548.62,455.02 549,455.07 549.38,455.12 549.77,455.16 550.15,455.21 550.53,455.26 550.92,455.31 551.3,455.35 551.68,455.4 552.07,455.44 552.45,455.49 552.83,455.53 553.22,455.58 553.6,455.62 553.98,455.66 554.37,455.7 554.75,455.75 555.13,455.79 555.52,455.83 555.9,455.87 556.28,455.91 556.67,455.95 557.05,455.99 557.43,456.03 557.82,456.07 558.2,456.11 558.58,456.14 558.97,456.18 559.35,456.22 559.73,456.25 560.12,456.29 560.5,456.33 560.88,456.36 561.27,456.4 561.65,456.43 562.03,456.47 562.42,456.5 562.8,456.53 563.18,456.57 563.57,456.6 563.95,456.63 564.33,456.67 564.72,456.7 565.1,456.73 565.48,456.76 565.87,456.79 566.25,456.82 566.63,456.85 567.02,456.88 567.4,456.91 567.78,456.94 568.17,456.97 568.55,457 568.93,457.03 569.32,457.06 569.7,457.09 570.08,457.11 570.47,457.14 570.85,457.17 571.23,457.2 571.62,457.22 572,457.25" fill="none" stroke="#9fc2f6" stroke-width="2.0" stroke-linejoin="round"/>
<polyline points="342,456.51 342.38,456.49 342.77,456.46 343.15,456.43 343.53,456.4 343.92,456.38 344.3,456.35 344.68,456.32 345.07,456.29 345.45,456.26 345.83,456.24 346.22,456.21 346.6,456.18 346.98,456.15 347.37,456.12 347.75,456.09 348.13,456.06 348.52,456.03 348.9,456 349.28,455.97 349.67,455.93 350.05,455.9 350.43,455.87 350.82,455.84 351.2,455.81 351.58,455.77 351.97,455.74 352.35,455.71 352.73,455.67 353.12,455.64 353.5,455.6 353.88,455.57 354.27,455.53 354.65,455.5 355.03,455.46 355.42,455.43 355.8,455.39 356.18,455.35 356.57,455.32 356.95,455.28 357.33,455.24 357.72,455.2 358.1,455.16 358.48,455.12 358.87,455.09 359.25,455.05 359.63,455.01 360.02,454.96 360.4,454.92 360.78,454.88 361.17,454.84 361.55,454.8 361.93,454.76 362.32,454.71 362.7,454.67 363.08,454.62 363.47,454.58 363.85,454.54 364.23,454.49 364.62,454.44 365,454.4 365.38,454.35 365.77,454.3 366.15,454.26 366.53,454.21 366.92,454.16 367.3,454.11 367.68,454.06 368.07,454.01 368.45,453.96 368.83,453.91 369.22,453.85 369.6,453.8 369.98,453.75 370.37,453.7 370.75,453.64 371.13,453.59 371.52,453.53 371.9,453.48 372.28,453.42 372.67,453.36 373.05,453.3 373.43,453.24 373.82,453.19 374.2,453.13 374.58,453.07 374.97,453 375.35,452.94 375.73,452.88 376.12,452.82 376.5,452.75 376.88,452.69 377.27,452.62 377.65,452.56 378.03,452.49 378.42,452.42 378.8,452.35 379.18,452.28 379.57,452.21 379.95,452.14 380.33,452.07 380.72,452 381.1,451.92 381.48,451.85 381.87,451.77 382.25,451.7 382.63,451.62 383.02,451.54 383.4,451.46 383.78,451.38 384.17,451.3 384.55,451.22 384.93,451.14 385.32,451.05 385.7,450.97 386.08,450.88 386.47,450.8 386.85,450.71 387.23,450.62 387.62,450.53 388,450.44 388.38,450.34 388.77,450.25 389.15,450.15 389.53,450.06 389.92,449.96 390.3,449.86 390.68,449.76 391.07,449.66 391.45,449.56 391.83,449.45 392.22,449.35 392.6,449.24 392.98,449.13 393.37,449.02 393.75,448.91 394.13,448.8 394.52,448.69 394.9,448.57 395.28,448.45 395.67,448.34 396.05,448.22 396.43,448.09 396.82,447.97 397.2,447.85 397.58,447.72 397.97,447.59 398.35,447.46 398.73,447.33 399.12,447.19 399.5,447.06 399.88,446.92 400.27,446.78 400.65,446.64 401.03,446.5 401.42,446.35 401.8,446.2 402.18,446.05 402.57,445.9 402.95,445.75 403.33,445.59 403.72,445.43 404.1,445.27 404.48,445.11 404.87,444.94 405.25,444.77 405.63,444.6 406.02,444.43 406.4,444.25 406.78,444.07 407.17,443.89 407.55,443.71 407.93,443.52 408.32,443.33 408.7,443.14 409.08,442.95 409.47,442.75 409.85,442.55 410.23,442.34 410.62,442.14 411,441.93 411.38,441.71 411.77,441.5 412.15,441.28 412.53,441.05 412.92,440.83 413.3,440.59 413.68,440.36 414.07,440.12 414.45,439.88 414.83,439.63 415.22,439.39 415.6,439.13 415.98,438.87 416.37,438.61 416.75,438.35 417.13,438.08 417.52,437.8 417.9,437.52 418.28,437.24 418.67,436.95 419.05,436.66 419.43,436.36 419.82,436.06 420.2,435.76 420.58,435.44 420.97,435.13 421.35,434.8 421.73,434.48 422.12,434.14 422.5,433.81 422.88,433.46 423.27,433.11 423.65,432.76 424.03,432.4 424.42,432.03 424.8,431.66 425.18,431.28 425.57,430.89 425.95,430.5 426.33,430.1 426.72,429.7 427.1,429.28 427.48,428.87 427.87,428.44 428.25,428.01 428.63,427.57 429.02,427.12 429.4,426.67 429.78,426.21 430.17,425.74 430.55,425.26 430.93,424.78 431.32,424.28 431.7,423.78 432.08,423.27 432.47,422.76 432.85,422.23 433.23,421.7 433.62,421.16 434,420.61 434.38,420.05 434.77,419.48 435.15,418.91 435.53,418.32 435.92,417.73 436.3,417.12 436.68,416.51 437.07,415.89 437.45,415.26 437.83,414.62 438.22,413.97 438.6,413.32 438.98,412.65 439.37,411.97 439.75,411.29 440.13,410.59 440.52,409.89 440.9,409.18 441.28,408.46 441.67,407.73 442.05,406.99 442.43,406.24 442.82,405.48 443.2,404.72 443.58,403.94 443.97,403.16 444.35,402.37 444.73,401.58 445.12,400.77 445.5,399.96 445.88,399.15 446.27,398.32 446.65,397.49 447.03,396.66 447.42,395.82 447.8,394.98 448.18,394.13 448.57,393.28 448.95,392.42 449.33,391.56 449.72,390.7 450.1,389.84 450.48,388.98 450.87,388.12 451.25,387.27 451.63,386.41 452.02,385.56 452.4,384.71 452.78,383.86 453.17,383.02 453.55,382.19 453.93,381.36 454.32,380.55 454.7,379.74 455.08,378.94 455.47,378.16 455.85,377.39 456.23,376.63 456.62,375.89 457,375.17 457.38,374.46 457.77,373.78 458.15,373.11 458.53,372.46 458.92,371.84 459.3,371.24 459.68,370.67 460.07,370.12 460.45,369.6 460.83,369.11 461.22,368.64 461.6,368.21 461.98,367.81 462.37,367.44 462.75,367.1 463.13,366.8 463.52,366.52 463.9,366.29 464.28,366.09 464.67,365.93 465.05,365.8 465.43,365.71 465.82,365.65 466.2,365.63 466.58,365.65 466.97,365.71 467.35,365.8 467.73,365.93 468.12,366.09 468.5,366.29 468.88,366.52 469.27,366.8 469.65,367.1 470.03,367.44 470.42,367.81 470.8,368.21 471.18,368.64 471.57,369.11 471.95,369.6 472.33,370.12 472.72,370.67 473.1,371.24 473.48,371.84 473.87,372.46 474.25,373.11 474.63,373.78 475.02,374.46 475.4,375.17 475.78,375.89 476.17,376.63 476.55,377.39 476.93,378.16 477.32,378.94 477.7,379.74 478.08,380.55 478.47,381.36 478.85,382.19 479.23,383.02 479.62,383.86 480,384.71 480.38,385.56 480.77,386.41 481.15,387.27 481.53,388.12 481.92,388.98 482.3,389.84 482.68,390.7 483.07,391.56 483.45,392.42 483.83,393.28 484.22,394.13 484.6,394.98 484.98,395.82 485.37,396.66 485.75,397.49 486.13,398.32 486.52,399.15 486.9,399.96 487.28,400.77 487.67,401.58 488.05,402.37 488.43,403.16 488.82,403.94 489.2,404.72 489.58,405.48 489.97,406.24 490.35,406.99 490.73,407.73 491.12,408.46 491.5,409.18 491.88,409.89 492.27,410.59 492.65,411.29 493.03,411.97 493.42,412.65 493.8,413.32 494.18,413.97 494.57,414.62 494.95,415.26 495.33,415.89 495.72,416.51 496.1,417.12 496.48,417.73 496.87,418.32 497.25,418.91 497.63,419.48 498.02,420.05 498.4,420.61 498.78,421.16 499.17,421.7 499.55,422.23 499.93,422.76 500.32,423.27 500.7,423.78 501.08,424.28 501.47,424.78 501.85,425.26 502.23,425.74 502.62,426.21 503,426.67 503.38,427.12 503.77,427.57 504.15,428.01 504.53,428.44 504.92,428.87 505.3,429.28 505.68,429.7 506.07,430.1 506.45,430.5 506.83,430.89 507.22,431.28 507.6,431.66 507.98,432.03 508.37,432.4 508.75,432.76 509.13,433.11 509.52,433.46 509.9,433.81 510.28,434.14 510.67,434.48 511.05,434.8 511.43,435.13 511.82,435.44 512.2,435.76 512.58,436.06 512.97,436.36 513.35,436.66 513.73,436.95 514.12,437.24 514.5,437.52 514.88,437.8 515.27,438.08 515.65,438.35 516.03,438.61 516.42,438.87 516.8,439.13 517.18,439.39 517.57,439.63 517.95,439.88 518.33,440.12 518.72,440.36 519.1,440.59 519.48,440.83 519.87,441.05 520.25,441.28 520.63,441.5 521.02,441.71 521.4,441.93 521.78,442.14 522.17,442.34 522.55,442.55 522.93,442.75 523.32,442.95 523.7,443.14 524.08,443.33 524.47,443.52 524.85,443.71 525.23,443.89 525.62,444.07 526,444.25 526.38,444.43 526.77,444.6 527.15,444.77 527.53,444.94 527.92,445.11 528.3,445.27 528.68,445.43 529.07,445.59 529.45,445.75 529.83,445.9 530.22,446.05 530.6,446.2 530.98,446.35 531.37,446.5 531.75,446.64 532.13,446.78 532.52,446.92 532.9,447.06 533.28,447.19 533.67,447.33 534.05,447.46 534.43,447.59 534.82,447.72 535.2,447.85 535.58,447.97 535.97,448.09 536.35,448.22 536.73,448.34 537.12,448.45 537.5,448.57 537.88,448.69 538.27,448.8 538.65,448.91 539.03,449.02 539.42,449.13 539.8,449.24 540.18,449.35 540.57,449.45 540.95,449.56 541.33,449.66 541.72,449.76 542.1,449.86 542.48,449.96 542.87,450.06 543.25,450.15 543.63,450.25 544.02,450.34 544.4,450.44 544.78,450.53 545.17,450.62 545.55,450.71 545.93,450.8 546.32,450.88 546.7,450.97 547.08,451.05 547.47,451.14 547.85,451.22 548.23,451.3 548.62,451.38 549,451.46 549.38,451.54 549.77,451.62 550.15,451.7 550.53,451.77 550.92,451.85 551.3,451.92 551.68,452 552.07,452.07 552.45,452.14 552.83,452.21 553.22,452.28 553.6,452.35 553.98,452.42 554.37,452.49 554.75,452.56 555.13,452.62 555.52,452.69 555.9,452.75 556.28,452.82 556.67,452.88 557.05,452.94 557.43,453 557.82,453.07 558.2,453.13 558.58,453.19 558.97,453.24 559.35,453.3 559.73,453.36 560.12,453.42 560.5,453.48 560.88,453.53 561.27,453.59 561.65,453.64 562.03,453.7 562.42,453.75 562.8,453.8 563.18,453.85 563.57,453.91 563.95,453.96 564.33,454.01 564.72,454.06 565.1,454.11 565.48,454.16 565.87,454.21 566.25,454.26 566.63,454.3 567.02,454.35 567.4,454.4 567.78,454.44 568.17,454.49 568.55,454.54 568.93,454.58 569.32,454.62 569.7,454.67 570.08,454.71 570.47,454.76 570.85,454.8 571.23,454.84 571.62,454.88 572,454.92" fill="none" stroke="#5d8ee9" stroke-width="2.0" stroke-linejoin="round"/>
<polyline points="342,454.42 342.38,454.38 342.77,454.34 343.15,454.29 343.53,454.25 343.92,454.21 344.3,454.16 344.68,454.12 345.07,454.07 345.45,454.03 345.83,453.98 346.22,453.94 346.6,453.89 346.98,453.84 347.37,453.79 347.75,453.75 348.13,453.7 348.52,453.65 348.9,453.6 349.28,453.55 349.67,453.5 350.05,453.45 350.43,453.39 350.82,453.34 351.2,453.29 351.58,453.24 351.97,453.18 352.35,453.13 352.73,453.07 353.12,453.02 353.5,452.96 353.88,452.91 354.27,452.85 354.65,452.79 355.03,452.73 355.42,452.67 355.8,452.61 356.18,452.55 356.57,452.49 356.95,452.43 357.33,452.37 357.72,452.31 358.1,452.24 358.48,452.18 358.87,452.11 359.25,452.05 359.63,451.98 360.02,451.92 360.4,451.85 360.78,451.78 361.17,451.71 361.55,451.64 361.93,451.57 362.32,451.5 362.7,451.43 363.08,451.35 363.47,451.28 363.85,451.2 364.23,451.13 364.62,451.05 365,450.97 365.38,450.9 365.77,450.82 366.15,450.74 366.53,450.65 366.92,450.57 367.3,450.49 367.68,450.41 368.07,450.32 368.45,450.24 368.83,450.15 369.22,450.06 369.6,449.97 369.98,449.88 370.37,449.79 370.75,449.7 371.13,449.61 371.52,449.51 371.9,449.42 372.28,449.32 372.67,449.22 373.05,449.12 373.43,449.02 373.82,448.92 374.2,448.82 374.58,448.71 374.97,448.61 375.35,448.5 375.73,448.39 376.12,448.28 376.5,448.17 376.88,448.06 377.27,447.95 377.65,447.83 378.03,447.71 378.42,447.6 378.8,447.48 379.18,447.36 379.57,447.23 379.95,447.11 380.33,446.98 380.72,446.86 381.1,446.73 381.48,446.6 381.87,446.46 382.25,446.33 382.63,446.19 383.02,446.05 383.4,445.91 383.78,445.77 384.17,445.63 384.55,445.48 384.93,445.33 385.32,445.18 385.7,445.03 386.08,444.88 386.47,444.72 386.85,444.56 387.23,444.4 387.62,444.24 388,444.07 388.38,443.91 388.77,443.74 389.15,443.56 389.53,443.39 389.92,443.21 390.3,443.03 390.68,442.85 391.07,442.66 391.45,442.48 391.83,442.29 392.22,442.09 392.6,441.9 392.98,441.7 393.37,441.49 393.75,441.29 394.13,441.08 394.52,440.87 394.9,440.65 395.28,440.44 395.67,440.22 396.05,439.99 396.43,439.76 396.82,439.53 397.2,439.3 397.58,439.06 397.97,438.81 398.35,438.57 398.73,438.32 399.12,438.06 399.5,437.8 399.88,437.54 400.27,437.28 400.65,437 401.03,436.73 401.42,436.45 401.8,436.17 402.18,435.88 402.57,435.58 402.95,435.28 403.33,434.98 403.72,434.67 404.1,434.36 404.48,434.04 404.87,433.72 405.25,433.39 405.63,433.05 406.02,432.71 406.4,432.37 406.78,432.01 407.17,431.66 407.55,431.29 407.93,430.92 408.32,430.54 408.7,430.16 409.08,429.77 409.47,429.37 409.85,428.97 410.23,428.56 410.62,428.14 411,427.72 411.38,427.28 411.77,426.84 412.15,426.4 412.53,425.94 412.92,425.48 413.3,425 413.68,424.52 414.07,424.03 414.45,423.54 414.83,423.03 415.22,422.51 415.6,421.99 415.98,421.45 416.37,420.91 416.75,420.35 417.13,419.79 417.52,419.21 417.9,418.63 418.28,418.03 418.67,417.42 419.05,416.8 419.43,416.17 419.82,415.53 420.2,414.88 420.58,414.22 420.97,413.54 421.35,412.85 421.73,412.15 422.12,411.43 422.5,410.7 422.88,409.96 423.27,409.21 423.65,408.44 424.03,407.66 424.42,406.86 424.8,406.05 425.18,405.22 425.57,404.38 425.95,403.53 426.33,402.66 426.72,401.77 427.1,400.87 427.48,399.95 427.87,399.02 428.25,398.07 428.63,397.1 429.02,396.12 429.4,395.12 429.78,394.1 430.17,393.07 430.55,392.02 430.93,390.95 431.32,389.86 431.7,388.76 432.08,387.64 432.47,386.5 432.85,385.35 433.23,384.18 433.62,382.99 434,381.78 434.38,380.56 434.77,379.32 435.15,378.06 435.53,376.79 435.92,375.5 436.3,374.19 436.68,372.87 437.07,371.54 437.45,370.19 437.83,368.82 438.22,367.45 438.6,366.06 438.98,364.65 439.37,363.24 439.75,361.82 440.13,360.38 440.52,358.94 440.9,357.49 441.28,356.04 441.67,354.58 442.05,353.12 442.43,351.65 442.82,350.19 443.2,348.72 443.58,347.26 443.97,345.8 444.35,344.35 444.73,342.9 445.12,341.47 445.5,340.05 445.88,338.64 446.27,337.24 446.65,335.87 447.03,334.52 447.42,333.19 447.8,331.88 448.18,330.61 448.57,329.36 448.95,328.15 449.33,326.97 449.72,325.83 450.1,324.73 450.48,323.67 450.87,322.66 451.25,321.7 451.63,320.78 452.02,319.92 452.4,319.12 452.78,318.36 453.17,317.67 453.55,317.04 453.93,316.47 454.32,315.96 454.7,315.52 455.08,315.14 455.47,314.83 455.85,314.59 456.23,314.42 456.62,314.31 457,314.28 457.38,314.31 457.77,314.42 458.15,314.59 458.53,314.83 458.92,315.14 459.3,315.52 459.68,315.96 460.07,316.47 460.45,317.04 460.83,317.67 461.22,318.36 461.6,319.12 461.98,319.92 462.37,320.78 462.75,321.7 463.13,322.66 463.52,323.67 463.9,324.73 464.28,325.83 464.67,326.97 465.05,328.15 465.43,329.36 465.82,330.61 466.2,331.88 466.58,333.19 466.97,334.52 467.35,335.87 467.73,337.24 468.12,338.64 468.5,340.05 468.88,341.47 469.27,342.9 469.65,344.35 470.03,345.8 470.42,347.26 470.8,348.72 471.18,350.19 471.57,351.65 471.95,353.12 472.33,354.58 472.72,356.04 473.1,357.49 473.48,358.94 473.87,360.38 474.25,361.82 474.63,363.24 475.02,364.65 475.4,366.06 475.78,367.45 476.17,368.82 476.55,370.19 476.93,371.54 477.32,372.87 477.7,374.19 478.08,375.5 478.47,376.79 478.85,378.06 479.23,379.32 479.62,380.56 480,381.78 480.38,382.99 480.77,384.18 481.15,385.35 481.53,386.5 481.92,387.64 482.3,388.76 482.68,389.86 483.07,390.95 483.45,392.02 483.83,393.07 484.22,394.1 484.6,395.12 484.98,396.12 485.37,397.1 485.75,398.07 486.13,399.02 486.52,399.95 486.9,400.87 487.28,401.77 487.67,402.66 488.05,403.53 488.43,404.38 488.82,405.22 489.2,406.05 489.58,406.86 489.97,407.66 490.35,408.44 490.73,409.21 491.12,409.96 491.5,410.7 491.88,411.43 492.27,412.15 492.65,412.85 493.03,413.54 493.42,414.22 493.8,414.88 494.18,415.53 494.57,416.17 494.95,416.8 495.33,417.42 495.72,418.03 496.1,418.63 496.48,419.21 496.87,419.79 497.25,420.35 497.63,420.91 498.02,421.45 498.4,421.99 498.78,422.51 499.17,423.03 499.55,423.54 499.93,424.03 500.32,424.52 500.7,425 501.08,425.48 501.47,425.94 501.85,426.4 502.23,426.84 502.62,427.28 503,427.72 503.38,428.14 503.77,428.56 504.15,428.97 504.53,429.37 504.92,429.77 505.3,430.16 505.68,430.54 506.07,430.92 506.45,431.29 506.83,431.66 507.22,432.01 507.6,432.37 507.98,432.71 508.37,433.05 508.75,433.39 509.13,433.72 509.52,434.04 509.9,434.36 510.28,434.67 510.67,434.98 511.05,435.28 511.43,435.58 511.82,435.88 512.2,436.17 512.58,436.45 512.97,436.73 513.35,437 513.73,437.28 514.12,437.54 514.5,437.8 514.88,438.06 515.27,438.32 515.65,438.57 516.03,438.81 516.42,439.06 516.8,439.3 517.18,439.53 517.57,439.76 517.95,439.99 518.33,440.22 518.72,440.44 519.1,440.65 519.48,440.87 519.87,441.08 520.25,441.29 520.63,441.49 521.02,441.7 521.4,441.9 521.78,442.09 522.17,442.29 522.55,442.48 522.93,442.66 523.32,442.85 523.7,443.03 524.08,443.21 524.47,443.39 524.85,443.56 525.23,443.74 525.62,443.91 526,444.07 526.38,444.24 526.77,444.4 527.15,444.56 527.53,444.72 527.92,444.88 528.3,445.03 528.68,445.18 529.07,445.33 529.45,445.48 529.83,445.63 530.22,445.77 530.6,445.91 530.98,446.05 531.37,446.19 531.75,446.33 532.13,446.46 532.52,446.6 532.9,446.73 533.28,446.86 533.67,446.98 534.05,447.11 534.43,447.23 534.82,447.36 535.2,447.48 535.58,447.6 535.97,447.71 536.35,447.83 536.73,447.95 537.12,448.06 537.5,448.17 537.88,448.28 538.27,448.39 538.65,448.5 539.03,448.61 539.42,448.71 539.8,448.82 540.18,448.92 540.57,449.02 540.95,449.12 541.33,449.22 541.72,449.32 542.1,449.42 542.48,449.51 542.87,449.61 543.25,449.7 543.63,449.79 544.02,449.88 544.4,449.97 544.78,450.06 545.17,450.15 545.55,450.24 545.93,450.32 546.32,450.41 546.7,450.49 547.08,450.57 547.47,450.65 547.85,450.74 548.23,450.82 548.62,450.9 549,450.97 549.38,451.05 549.77,451.13 550.15,451.2 550.53,451.28 550.92,451.35 551.3,451.43 551.68,451.5 552.07,451.57 552.45,451.64 552.83,451.71 553.22,451.78 553.6,451.85 553.98,451.92 554.37,451.98 554.75,452.05 555.13,452.11 555.52,452.18 555.9,452.24 556.28,452.31 556.67,452.37 557.05,452.43 557.43,452.49 557.82,452.55 558.2,452.61 558.58,452.67 558.97,452.73 559.35,452.79 559.73,452.85 560.12,452.91 560.5,452.96 560.88,453.02 561.27,453.07 561.65,453.13 562.03,453.18 562.42,453.24 562.8,453.29 563.18,453.34 563.57,453.39 563.95,453.45 564.33,453.5 564.72,453.55 565.1,453.6 565.48,453.65 565.87,453.7 566.25,453.75 566.63,453.79 567.02,453.84 567.4,453.89 567.78,453.94 568.17,453.98 568.55,454.03 568.93,454.07 569.32,454.12 569.7,454.16 570.08,454.21 570.47,454.25 570.85,454.29 571.23,454.34 571.62,454.38 572,454.42" fill="none" stroke="#3362dc" stroke-width="2.0" stroke-linejoin="round"/>
</g>
<text x="366.8" y="301.2" font-size="17" text-anchor="middle" fill="#000" stroke="#000" font-weight="normal" >(d)</text>
<text x="342.5" y="482.5" font-size="15.5" text-anchor="middle" fill="#000" stroke="#000" font-weight="normal" >-3</text>
<text x="380.83" y="482.5" font-size="15.5" text-anchor="middle" fill="#000" stroke="#000" font-weight="normal" >-2</text>
<text x="419.17" y="482.5" font-size="15.5" text-anchor="middle" fill="#000" stroke="#000" font-weight="normal" >-1</text>
<text x="457.5" y="482.5" font-size="15.5" text-anchor="middle" fill="#000" stroke="#000" font-weight="normal" >0</text>
<text x="495.83" y="482.5" font-size="15.5" text-anchor="middle" fill="#000" stroke="#000" font-weight="normal" >1</text>
<text x="534.17" y="482.5" font-size="15.5" text-anchor="middle" fill="#000" stroke="#000" font-weight="normal" >2</text>
<text x="572.5" y="482.5" font-size="15.5" text-anchor="middle" fill="#000" stroke="#000" font-weight="normal" >3</text>
<text x="337.5" y="466.5" font-size="15.5" text-anchor="end" fill="#000" stroke="#000" font-weight="normal" dy="0.8">0</text>
<text x="337.5" y="414.1" font-size="15.5" text-anchor="end" fill="#000" stroke="#000" font-weight="normal" dy="0.8">1</text>
<text x="337.5" y="361.7" font-size="15.5" text-anchor="end" fill="#000" stroke="#000" font-weight="normal" dy="0.8">2</text>
<text x="337.5" y="309.3" font-size="15.5" text-anchor="end" fill="#000" stroke="#000" font-weight="normal" dy="0.8">3</text>
<text x="457.5" y="501.7" font-size="17.2" text-anchor="middle" fill="#000" stroke="#000" font-weight="normal" >Propagation coordinate Z / mm</text>
<text transform="translate(322.5,439.5) rotate(-90)" stroke="#000" font-size="17.5">XUV intensity / a.u.</text>
<text x="464" y="307" font-size="17.4" text-anchor="start" fill="#3362dc" stroke="#3362dc" font-weight="bold" >H15</text>
<text x="482.6" y="363" font-size="17.4" text-anchor="start" fill="#5d8ee9" stroke="#5d8ee9" font-weight="bold" >H17</text>
<text x="530" y="438.5" font-size="17.4" text-anchor="start" fill="#9fc2f6" stroke="#9fc2f6" font-weight="bold" >H19</text>
<text x="437.4" y="436.6" font-size="17.4" text-anchor="start" fill="#1d3fd0" stroke="#1d3fd0" font-weight="bold" >H13</text>
<text x="349.7" y="439.5" font-size="17.4" text-anchor="start" fill="#1530bd" stroke="#1530bd" font-weight="bold" >H11</text>
<line x1="471.2" y1="367.6" x2="479" y2="359.4" stroke="#111" stroke-width="1.1"/>
<line x1="433.8" y1="449" x2="444.5" y2="439.5" stroke="#111" stroke-width="1.1"/>
<line x1="510.6" y1="448" x2="526.8" y2="437.2" stroke="#111" stroke-width="1.1"/>
<line x1="380.3" y1="437.4" x2="403.3" y2="458.2" stroke="#111" stroke-width="1.1"/></svg>
</body></html>
